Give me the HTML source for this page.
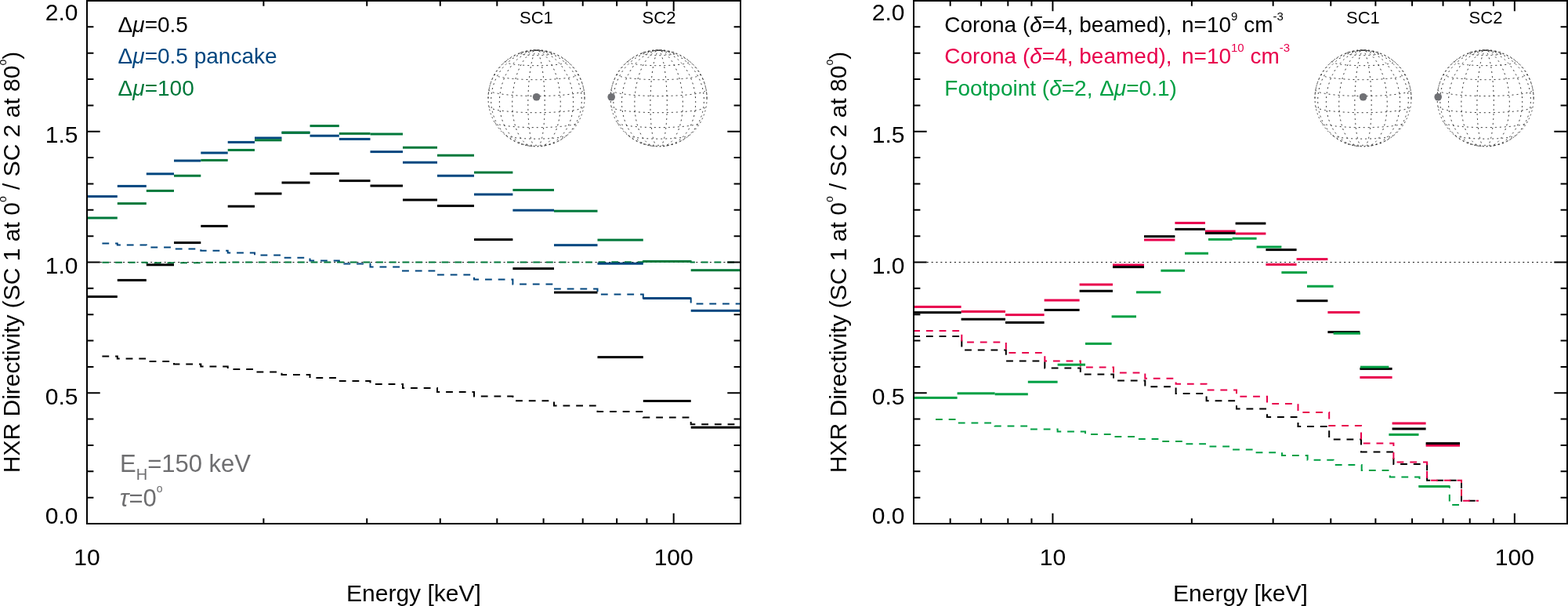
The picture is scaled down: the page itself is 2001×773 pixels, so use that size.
<!DOCTYPE html><html><head><meta charset="utf-8"><style>html,body{margin:0;padding:0;background:#fff;overflow:hidden}svg{display:block}</style></head><body><svg width="2001" height="773" viewBox="0 0 2001 773" font-family="'Liberation Sans', Arial, sans-serif">
<rect width="100%" height="100%" fill="#fff"/>
<defs><clipPath id="cl"><rect x="111" y="1" width="834" height="667"/></clipPath><clipPath id="cr"><rect x="1166" y="1" width="834" height="667"/></clipPath></defs>
<g clip-path="url(#cl)">
<path d="M111 334.4H945" stroke="#111" stroke-width="1.05" stroke-dasharray="2 3.85" stroke-dashoffset="0.75" fill="none"/>
<path d="M130.4 454.4H149.8V457.6H186.8V461H222V464.4H256.3V467.6H290.7V471H325V474.4H359.5V478H395.5V482H432.8V486H472.5V490H514V495H558V500H605V505.4H654.4V511.2H707V517.6H762.5V524.9H820.8V532.5H881.7V541.3H945" stroke="#000" stroke-width="2" fill="none" stroke-dasharray="8.8 7.9" stroke-dashoffset="0"/>
<path d="M130.4 310.6H149.8V312.6H186.8V315.4H222V317.4H256.3V319.8H290.7V322.6H325V325.6H359.5V328.8H395.5V332.6H432.8V336.6H472.5V340.6H514V345.4H558V350.6H605V356.4H654.4V362.4H707V368.6H762.5V375.5H820.8V380.4H881.7V387.4H945" stroke="#00467f" stroke-width="2" fill="none" stroke-dasharray="8.8 7.9" stroke-dashoffset="0"/>
<path d="M130.4 334.8H149.8V334.8H186.8V335.2H222V335.2H256.3V334.8H290.7V334.6H325V334.6H359.5V334.6H395.5V334.6H432.8V334.6H472.5V334.6H514V334.6H558V334.6H605V334.6H654.4V334.4H707V334.4H762.5V334.2H820.8V333.2H881.7V334.6H945" stroke="#00783a" stroke-width="2" fill="none" stroke-dasharray="8.8 7.9" stroke-dashoffset="0"/>
<g fill="#000"><rect x="111" y="376.90" width="38.80" height="3"/><rect x="149.8" y="355.90" width="37.00" height="3"/><rect x="186.8" y="336.30" width="35.20" height="3"/><rect x="222" y="308.10" width="34.30" height="3"/><rect x="256.3" y="286.90" width="34.40" height="3"/><rect x="290.7" y="261.70" width="34.30" height="3"/><rect x="325" y="245.50" width="34.50" height="3"/><rect x="359.5" y="231.50" width="36.00" height="3"/><rect x="395.5" y="219.90" width="37.30" height="3"/><rect x="432.8" y="229.10" width="39.70" height="3"/><rect x="472.5" y="235.50" width="41.50" height="3"/><rect x="514" y="253.50" width="44.00" height="3"/><rect x="558" y="261.10" width="47.00" height="3"/><rect x="605" y="304.10" width="49.40" height="3"/><rect x="654.4" y="341.10" width="52.60" height="3"/><rect x="707" y="371.50" width="55.50" height="3"/><rect x="762.5" y="454.10" width="58.30" height="3"/><rect x="820.8" y="510.00" width="60.90" height="3"/><rect x="881.7" y="543.70" width="63.30" height="3"/></g>
<g fill="#00467f"><rect x="111" y="249.10" width="38.80" height="3"/><rect x="149.8" y="235.90" width="37.00" height="3"/><rect x="186.8" y="220.30" width="35.20" height="3"/><rect x="222" y="203.50" width="34.30" height="3"/><rect x="256.3" y="193.50" width="34.40" height="3"/><rect x="290.7" y="179.90" width="34.30" height="3"/><rect x="325" y="174.50" width="34.50" height="3"/><rect x="359.5" y="167.70" width="36.00" height="3"/><rect x="395.5" y="171.70" width="37.30" height="3"/><rect x="432.8" y="175.90" width="39.70" height="3"/><rect x="472.5" y="192.10" width="41.50" height="3"/><rect x="514" y="205.70" width="44.00" height="3"/><rect x="558" y="222.70" width="47.00" height="3"/><rect x="605" y="246.50" width="49.40" height="3"/><rect x="654.4" y="266.70" width="52.60" height="3"/><rect x="707" y="311.20" width="55.50" height="3"/><rect x="762.5" y="334.70" width="58.30" height="3"/><rect x="820.8" y="379.00" width="60.90" height="3"/><rect x="881.7" y="394.80" width="63.30" height="3"/></g>
<g fill="#00783a"><rect x="111" y="276.50" width="38.80" height="3"/><rect x="149.8" y="258.10" width="37.00" height="3"/><rect x="186.8" y="241.90" width="35.20" height="3"/><rect x="222" y="222.70" width="34.30" height="3"/><rect x="256.3" y="202.90" width="34.40" height="3"/><rect x="290.7" y="189.90" width="34.30" height="3"/><rect x="325" y="177.30" width="34.50" height="3"/><rect x="359.5" y="167.70" width="36.00" height="3"/><rect x="395.5" y="159.10" width="37.30" height="3"/><rect x="432.8" y="168.90" width="39.70" height="3"/><rect x="472.5" y="169.50" width="41.50" height="3"/><rect x="514" y="186.70" width="44.00" height="3"/><rect x="558" y="196.70" width="47.00" height="3"/><rect x="605" y="218.50" width="49.40" height="3"/><rect x="654.4" y="240.90" width="52.60" height="3"/><rect x="707" y="267.70" width="55.50" height="3"/><rect x="762.5" y="304.60" width="58.30" height="3"/><rect x="820.8" y="331.90" width="60.90" height="3"/><rect x="881.7" y="343.20" width="63.30" height="3"/></g>
</g>
<path d="M111.0 1 H945.0 V668.0 H111.0 Z" fill="none" stroke="#000" stroke-width="2" stroke-linejoin="miter"/>
<path d="M111.0 668.00h16.7M945.0 668.00h-16.7M111.0 634.65h8.4M945.0 634.65h-8.4M111.0 601.30h8.4M945.0 601.30h-8.4M111.0 567.95h8.4M945.0 567.95h-8.4M111.0 534.60h8.4M945.0 534.60h-8.4M111.0 501.25h16.7M945.0 501.25h-16.7M111.0 467.90h8.4M945.0 467.90h-8.4M111.0 434.55h8.4M945.0 434.55h-8.4M111.0 401.20h8.4M945.0 401.20h-8.4M111.0 367.85h8.4M945.0 367.85h-8.4M111.0 334.50h16.7M945.0 334.50h-16.7M111.0 301.15h8.4M945.0 301.15h-8.4M111.0 267.80h8.4M945.0 267.80h-8.4M111.0 234.45h8.4M945.0 234.45h-8.4M111.0 201.10h8.4M945.0 201.10h-8.4M111.0 167.75h16.7M945.0 167.75h-16.7M111.0 134.40h8.4M945.0 134.40h-8.4M111.0 101.05h8.4M945.0 101.05h-8.4M111.0 67.70h8.4M945.0 67.70h-8.4M111.0 34.35h8.4M945.0 34.35h-8.4M111.0 1.00h16.7M945.0 1.00h-16.7M111.00 668.0v-13.3M111.00 1v13.3M336.38 668.0v-6.7M336.38 1v6.7M468.22 668.0v-6.7M468.22 1v6.7M561.76 668.0v-6.7M561.76 1v6.7M634.31 668.0v-6.7M634.31 1v6.7M693.60 668.0v-6.7M693.60 1v6.7M743.72 668.0v-6.7M743.72 1v6.7M787.14 668.0v-6.7M787.14 1v6.7M825.43 668.0v-6.7M825.43 1v6.7M859.69 668.0v-13.3M859.69 1v13.3" stroke="#000" stroke-width="2" fill="none"/>
<text x="99.5" y="25.6" text-anchor="end" font-size="30">2.0</text>
<text x="99.5" y="181.6" text-anchor="end" font-size="30">1.5</text>
<text x="99.5" y="348.6" text-anchor="end" font-size="30">1.0</text>
<text x="99.5" y="515.7" text-anchor="end" font-size="30">0.5</text>
<text x="99.5" y="667.5" text-anchor="end" font-size="30">0.0</text>
<text x="111.00" y="721" text-anchor="middle" font-size="30">10</text>
<text x="859.69" y="721" text-anchor="middle" font-size="30">100</text>
<text x="527.9" y="766.8" text-anchor="middle" font-size="30">Energy [keV]</text>
<text transform="translate(24.9,603.2) rotate(-90)" font-size="30">HXR Directivity (SC 1 at 0<tspan font-size="14" dy="-17">o</tspan><tspan dy="17"> / SC 2 at 80</tspan><tspan font-size="14" dy="-17">o</tspan><tspan dy="17">)</tspan></text>
<g font-size="28">
<text x="150.6" y="41">Δ<tspan font-style="italic">μ</tspan>=0.5</text>
<text x="150.6" y="81.4" fill="#00467f">Δ<tspan font-style="italic">μ</tspan>=0.5 pancake</text>
<text x="150.6" y="122" fill="#00783a">Δ<tspan font-style="italic">μ</tspan>=100</text>
</g>
<text x="153" y="601.9" font-size="31" fill="#6e6e70">E<tspan font-size="20" dy="10">H</tspan><tspan dy="-10">=150 keV</tspan></text>
<text x="152.8" y="645.9" font-size="31" fill="#6e6e70"><tspan font-style="italic">τ</tspan>=0<tspan font-size="14" dy="-18">o</tspan></text>
<g clip-path="url(#cr)">
<path d="M1166 334.4H2000" stroke="#111" stroke-width="1.05" stroke-dasharray="2 3.85" stroke-dashoffset="0.75" fill="none"/>
<path d="M1166 429H1227.3V446.6H1283.8V460.4H1333.3V469.6H1378.8V477.6H1421V485.4H1461.3V493.2H1500.6V502H1539.6V511.2H1578V521.4H1617V532H1656.5V544H1696.2V560.4H1737V576.4H1778.4V592H1821.1V612.8H1865V638.8H1887" stroke="#000" stroke-width="2" fill="none" stroke-dasharray="8.8 7.9" stroke-dashoffset="0.8"/>
<path d="M1166 422H1227.3V436.6H1283.8V450H1333.3V460.4H1378.8V468.4H1421V475.6H1461.3V482.8H1500.6V489.8H1539.6V497.4H1578V505.8H1617V515H1656.5V526H1696.2V543H1737V565.5H1778.4V589.5H1821.1V612.8H1865V638.8H1887" stroke="#e8004c" stroke-width="2" fill="none" stroke-dasharray="8.8 7.9" stroke-dashoffset="0.8"/>
<path d="M1194 535H1221.6V539.6H1269.6V543.6H1311.8V547.6H1349.6V550.6H1385V554H1418.6V557H1450V560H1481.4V563H1512V566.2H1542V569.6H1572.6V573.4H1603.6V577.3H1636V581H1668.6V586.8H1701.6V593H1737.7V600H1773.8V608.6H1811.5V620.6H1849.8V644H1862.3" stroke="#00a044" stroke-width="2" fill="none" stroke-dasharray="8.8 7.9" stroke-dashoffset="0"/>
<g fill="#e8004c"><rect x="1166" y="389.90" width="60.60" height="3"/><rect x="1226.6" y="395.90" width="56.40" height="3"/><rect x="1283" y="400.10" width="49.60" height="3"/><rect x="1332.6" y="381.50" width="45.00" height="3"/><rect x="1377.6" y="361.50" width="42.40" height="3"/><rect x="1420" y="336.50" width="40.00" height="3"/><rect x="1460" y="304.50" width="39.40" height="3"/><rect x="1499.4" y="282.90" width="38.60" height="3"/><rect x="1538" y="293.50" width="38.60" height="3"/><rect x="1576.6" y="296.50" width="38.80" height="3"/><rect x="1615.4" y="335.90" width="39.20" height="3"/><rect x="1654.6" y="329.10" width="39.80" height="3"/><rect x="1694.4" y="396.90" width="41.00" height="3"/><rect x="1735.4" y="479.90" width="41.20" height="3"/><rect x="1776.6" y="538.50" width="43.00" height="3"/><rect x="1819.6" y="566.70" width="43.40" height="3"/></g>
<g fill="#000"><rect x="1166" y="397.10" width="60.60" height="3"/><rect x="1226.6" y="405.70" width="56.40" height="3"/><rect x="1283" y="409.90" width="49.60" height="3"/><rect x="1332.6" y="393.90" width="45.00" height="3"/><rect x="1377.6" y="369.70" width="42.40" height="3"/><rect x="1420" y="339.10" width="40.00" height="3"/><rect x="1460" y="300.10" width="39.40" height="3"/><rect x="1499.4" y="290.90" width="38.60" height="3"/><rect x="1538" y="295.90" width="38.60" height="3"/><rect x="1576.6" y="283.50" width="38.80" height="3"/><rect x="1615.4" y="317.10" width="39.20" height="3"/><rect x="1654.6" y="382.20" width="39.80" height="3"/><rect x="1694.4" y="422.10" width="41.00" height="3"/><rect x="1735.4" y="468.90" width="41.20" height="3"/><rect x="1776.6" y="545.50" width="43.00" height="3"/><rect x="1819.6" y="564.10" width="43.40" height="3"/></g>
<g fill="#00a044"><rect x="1166" y="505.90" width="55.60" height="3"/><rect x="1221.6" y="500.30" width="48.00" height="3"/><rect x="1269.6" y="501.30" width="42.20" height="3"/><rect x="1311.8" y="485.70" width="37.80" height="3"/><rect x="1349.6" y="463.70" width="35.40" height="3"/><rect x="1385" y="436.90" width="33.60" height="3"/><rect x="1418.6" y="402.30" width="31.40" height="3"/><rect x="1450" y="371.30" width="31.40" height="3"/><rect x="1481.4" y="343.70" width="30.60" height="3"/><rect x="1512" y="321.70" width="30.00" height="3"/><rect x="1542" y="303.90" width="30.60" height="3"/><rect x="1572.6" y="302.70" width="31.00" height="3"/><rect x="1603.6" y="313.50" width="31.80" height="3"/><rect x="1635.4" y="346.10" width="32.60" height="3"/><rect x="1668" y="363.70" width="33.60" height="3"/><rect x="1701.6" y="423.70" width="34.40" height="3"/><rect x="1736" y="466.70" width="36.40" height="3"/><rect x="1772.4" y="552.90" width="38.10" height="3"/><rect x="1810.5" y="619.00" width="39.50" height="3"/></g>
</g>
<path d="M1166.0 1 H2000.0 V668.0 H1166.0 Z" fill="none" stroke="#000" stroke-width="2" stroke-linejoin="miter"/>
<path d="M1166.0 668.00h16.7M2000.0 668.00h-16.7M1166.0 634.65h8.4M2000.0 634.65h-8.4M1166.0 601.30h8.4M2000.0 601.30h-8.4M1166.0 567.95h8.4M2000.0 567.95h-8.4M1166.0 534.60h8.4M2000.0 534.60h-8.4M1166.0 501.25h16.7M2000.0 501.25h-16.7M1166.0 467.90h8.4M2000.0 467.90h-8.4M1166.0 434.55h8.4M2000.0 434.55h-8.4M1166.0 401.20h8.4M2000.0 401.20h-8.4M1166.0 367.85h8.4M2000.0 367.85h-8.4M1166.0 334.50h16.7M2000.0 334.50h-16.7M1166.0 301.15h8.4M2000.0 301.15h-8.4M1166.0 267.80h8.4M2000.0 267.80h-8.4M1166.0 234.45h8.4M2000.0 234.45h-8.4M1166.0 201.10h8.4M2000.0 201.10h-8.4M1166.0 167.75h16.7M2000.0 167.75h-16.7M1166.0 134.40h8.4M2000.0 134.40h-8.4M1166.0 101.05h8.4M2000.0 101.05h-8.4M1166.0 67.70h8.4M2000.0 67.70h-8.4M1166.0 34.35h8.4M2000.0 34.35h-8.4M1166.0 1.00h16.7M2000.0 1.00h-16.7M1166.00 668.0v-6.7M1166.00 1v6.7M1212.67 668.0v-6.7M1212.67 1v6.7M1252.13 668.0v-6.7M1252.13 1v6.7M1286.31 668.0v-6.7M1286.31 1v6.7M1316.46 668.0v-6.7M1316.46 1v6.7M1343.43 668.0v-13.3M1343.43 1v13.3M1520.86 668.0v-6.7M1520.86 1v6.7M1624.65 668.0v-6.7M1624.65 1v6.7M1698.29 668.0v-6.7M1698.29 1v6.7M1755.41 668.0v-6.7M1755.41 1v6.7M1802.08 668.0v-6.7M1802.08 1v6.7M1841.54 668.0v-6.7M1841.54 1v6.7M1875.72 668.0v-6.7M1875.72 1v6.7M1905.87 668.0v-6.7M1905.87 1v6.7M1932.84 668.0v-13.3M1932.84 1v13.3" stroke="#000" stroke-width="2" fill="none"/>
<text x="1154.5" y="25.6" text-anchor="end" font-size="30">2.0</text>
<text x="1154.5" y="181.6" text-anchor="end" font-size="30">1.5</text>
<text x="1154.5" y="348.6" text-anchor="end" font-size="30">1.0</text>
<text x="1154.5" y="515.7" text-anchor="end" font-size="30">0.5</text>
<text x="1154.5" y="667.5" text-anchor="end" font-size="30">0.0</text>
<text x="1343.43" y="721" text-anchor="middle" font-size="30">10</text>
<text x="1932.84" y="721" text-anchor="middle" font-size="30">100</text>
<text x="1583" y="766.8" text-anchor="middle" font-size="30">Energy [keV]</text>
<text transform="translate(1079.8,603.2) rotate(-90)" font-size="30">HXR Directivity (SC 1 at 0<tspan font-size="14" dy="-17">o</tspan><tspan dy="17"> / SC 2 at 80</tspan><tspan font-size="14" dy="-17">o</tspan><tspan dy="17">)</tspan></text>
<g font-size="28">
<text x="1205.3" y="40.6">Corona (<tspan font-style="italic">δ</tspan>=4, beamed),<tspan dx="4.6"> n=10</tspan><tspan font-size="15" dy="-15">9</tspan><tspan dy="15"> cm</tspan><tspan font-size="15" dy="-15">-3</tspan></text>
<text x="1205.3" y="81.3" fill="#e8004c">Corona (<tspan font-style="italic">δ</tspan>=4, beamed),<tspan dx="4.6"> n=10</tspan><tspan font-size="15" dy="-15">10</tspan><tspan dy="15"> cm</tspan><tspan font-size="15" dy="-15">-3</tspan></text>
<text x="1205.3" y="121.5" fill="#00a044">Footpoint (<tspan font-style="italic">δ</tspan>=2,<tspan dx="2.5"> Δ</tspan><tspan font-style="italic">μ</tspan>=0.1)</text>
</g>
<circle cx="684.5" cy="125.3" r="61.5" fill="none" stroke="#333" stroke-width="1" stroke-dasharray="1.8 3.4"/>
<path d="M665.00 183.62 L665.28 183.71 L665.59 183.80 L665.93 183.88 L666.28 183.96 L666.66 184.05 L667.06 184.12 L667.48 184.20 L667.92 184.28 L668.39 184.35 L668.87 184.42 L669.37 184.49 L669.89 184.56 L670.43 184.62 L670.98 184.69 L671.55 184.74 L672.14 184.80 L672.74 184.86 L673.35 184.91 L673.98 184.96 L674.63 185.00 L675.28 185.04 L675.94 185.08 L676.62 185.12 L677.31 185.16 L678.00 185.19 L678.70 185.21 L679.41 185.24 L680.13 185.26 L680.85 185.28 L681.57 185.29 L682.30 185.30 L683.03 185.31 L683.77 185.32 L684.50 185.32 L685.23 185.32 L685.97 185.31 L686.70 185.30 L687.43 185.29 L688.15 185.28 L688.87 185.26 L689.59 185.24 L690.30 185.21 L691.00 185.19 L691.69 185.16 L692.38 185.12 L693.06 185.08 L693.72 185.04 L694.37 185.00 L695.02 184.96 L695.65 184.91 L696.26 184.86 L696.86 184.80 L697.45 184.74 L698.02 184.69 L698.57 184.62 L699.11 184.56 L699.63 184.49 L700.13 184.42 L700.61 184.35 L701.08 184.28 L701.52 184.20 L701.94 184.12 L702.34 184.05 L702.72 183.96 L703.07 183.88 L703.41 183.80 L703.72 183.71 L704.00 183.62 M645.57 172.90 L645.83 173.08 L646.14 173.25 L646.50 173.42 L646.90 173.59 L647.35 173.76 L647.85 173.93 L648.39 174.09 L648.97 174.25 L649.60 174.41 L650.26 174.57 L650.98 174.72 L651.73 174.87 L652.52 175.01 L653.35 175.15 L654.22 175.29 L655.12 175.43 L656.06 175.56 L657.04 175.68 L658.05 175.80 L659.09 175.92 L660.16 176.03 L661.26 176.14 L662.39 176.24 L663.55 176.34 L664.73 176.43 L665.94 176.51 L667.17 176.60 L668.42 176.67 L669.69 176.74 L670.98 176.80 L672.28 176.86 L673.60 176.91 L674.94 176.96 L676.28 177.00 L677.64 177.03 L679.00 177.06 L680.37 177.08 L681.74 177.10 L683.12 177.11 L684.50 177.11 L685.88 177.11 L687.26 177.10 L688.63 177.08 L690.00 177.06 L691.36 177.03 L692.72 177.00 L694.06 176.96 L695.40 176.91 L696.72 176.86 L698.02 176.80 L699.31 176.74 L700.58 176.67 L701.83 176.60 L703.06 176.51 L704.27 176.43 L705.45 176.34 L706.61 176.24 L707.74 176.14 L708.84 176.03 L709.91 175.92 L710.95 175.80 L711.96 175.68 L712.94 175.56 L713.88 175.43 L714.78 175.29 L715.65 175.15 L716.48 175.01 L717.27 174.87 L718.02 174.72 L718.74 174.57 L719.40 174.41 L720.03 174.25 L720.61 174.09 L721.15 173.93 L721.65 173.76 L722.10 173.59 L722.50 173.42 L722.86 173.25 L723.17 173.08 L723.43 172.90 M631.53 156.51 L631.76 156.75 L632.05 156.99 L632.40 157.22 L632.82 157.45 L633.30 157.68 L633.85 157.91 L634.45 158.14 L635.12 158.36 L635.84 158.58 L636.63 158.80 L637.47 159.01 L638.38 159.22 L639.33 159.43 L640.34 159.63 L641.41 159.83 L642.53 160.02 L643.70 160.20 L644.92 160.38 L646.19 160.56 L647.50 160.73 L648.86 160.89 L650.26 161.05 L651.71 161.20 L653.19 161.34 L654.72 161.48 L656.28 161.61 L657.87 161.73 L659.50 161.85 L661.15 161.96 L662.84 162.06 L664.55 162.15 L666.28 162.24 L668.04 162.32 L669.82 162.39 L671.62 162.45 L673.43 162.50 L675.25 162.55 L677.09 162.59 L678.93 162.62 L680.78 162.64 L682.64 162.65 L684.50 162.65 L686.36 162.65 L688.22 162.64 L690.07 162.62 L691.91 162.59 L693.75 162.55 L695.57 162.50 L697.38 162.45 L699.18 162.39 L700.96 162.32 L702.72 162.24 L704.45 162.15 L706.16 162.06 L707.85 161.96 L709.50 161.85 L711.13 161.73 L712.72 161.61 L714.28 161.48 L715.81 161.34 L717.29 161.20 L718.74 161.05 L720.14 160.89 L721.50 160.73 L722.81 160.56 L724.08 160.38 L725.30 160.20 L726.47 160.02 L727.59 159.83 L728.66 159.63 L729.67 159.43 L730.62 159.22 L731.53 159.01 L732.37 158.80 L733.16 158.58 L733.88 158.36 L734.55 158.14 L735.15 157.91 L735.70 157.68 L736.18 157.45 L736.60 157.22 L736.95 156.99 L737.24 156.75 L737.47 156.51 M623.97 136.16 L624.08 136.43 L624.27 136.71 L624.52 136.98 L624.85 137.24 L625.26 137.51 L625.73 137.78 L626.28 138.04 L626.90 138.30 L627.59 138.56 L628.34 138.81 L629.17 139.06 L630.06 139.31 L631.02 139.55 L632.05 139.79 L633.14 140.02 L634.29 140.25 L635.50 140.48 L636.77 140.69 L638.10 140.90 L639.49 141.11 L640.93 141.31 L642.43 141.50 L643.97 141.69 L645.57 141.87 L647.21 142.04 L648.90 142.20 L650.63 142.36 L652.41 142.51 L654.22 142.65 L656.07 142.78 L657.95 142.90 L659.87 143.02 L661.81 143.12 L663.79 143.22 L665.78 143.31 L667.81 143.39 L669.85 143.46 L671.91 143.52 L673.98 143.57 L676.07 143.62 L678.17 143.65 L680.28 143.67 L682.39 143.69 L684.50 143.69 L686.61 143.69 L688.72 143.67 L690.83 143.65 L692.93 143.62 L695.02 143.57 L697.09 143.52 L699.15 143.46 L701.19 143.39 L703.22 143.31 L705.21 143.22 L707.19 143.12 L709.13 143.02 L711.05 142.90 L712.93 142.78 L714.78 142.65 L716.59 142.51 L718.37 142.36 L720.10 142.20 L721.79 142.04 L723.43 141.87 L725.03 141.69 L726.57 141.50 L728.07 141.31 L729.51 141.11 L730.90 140.90 L732.23 140.69 L733.50 140.48 L734.71 140.25 L735.86 140.02 L736.95 139.79 L737.98 139.55 L738.94 139.31 L739.83 139.06 L740.66 138.81 L741.41 138.56 L742.10 138.30 L742.72 138.04 L743.27 137.78 L743.74 137.51 L744.15 137.24 L744.48 136.98 L744.73 136.71 L744.92 136.43 L745.03 136.16 M623.93 114.71 L623.97 114.98 L624.08 115.25 L624.27 115.52 L624.52 115.80 L624.85 116.06 L625.26 116.33 L625.73 116.60 L626.28 116.86 L626.90 117.12 L627.59 117.38 L628.34 117.63 L629.17 117.88 L630.06 118.13 L631.02 118.37 L632.05 118.61 L633.14 118.84 L634.29 119.07 L635.50 119.29 L636.77 119.51 L638.10 119.72 L639.49 119.93 L640.93 120.13 L642.43 120.32 L643.97 120.51 L645.57 120.69 L647.21 120.86 L648.90 121.02 L650.63 121.18 L652.41 121.32 L654.22 121.47 L656.07 121.60 L657.95 121.72 L659.87 121.84 L661.81 121.94 L663.79 122.04 L665.78 122.13 L667.81 122.21 L669.85 122.28 L671.91 122.34 L673.98 122.39 L676.07 122.43 L678.17 122.47 L680.28 122.49 L682.39 122.51 L684.50 122.51 L686.61 122.51 L688.72 122.49 L690.83 122.47 L692.93 122.43 L695.02 122.39 L697.09 122.34 L699.15 122.28 L701.19 122.21 L703.22 122.13 L705.21 122.04 L707.19 121.94 L709.13 121.84 L711.05 121.72 L712.93 121.60 L714.78 121.47 L716.59 121.32 L718.37 121.18 L720.10 121.02 L721.79 120.86 L723.43 120.69 L725.03 120.51 L726.57 120.32 L728.07 120.13 L729.51 119.93 L730.90 119.72 L732.23 119.51 L733.50 119.29 L734.71 119.07 L735.86 118.84 L736.95 118.61 L737.98 118.37 L738.94 118.13 L739.83 117.88 L740.66 117.63 L741.41 117.38 L742.10 117.12 L742.72 116.86 L743.27 116.60 L743.74 116.33 L744.15 116.06 L744.48 115.80 L744.73 115.52 L744.92 115.25 L745.03 114.98 L745.07 114.71 M631.37 94.33 L631.27 94.57 L631.24 94.81 L631.27 95.05 L631.37 95.28 L631.53 95.52 L631.76 95.76 L632.05 96.00 L632.40 96.23 L632.82 96.47 L633.30 96.70 L633.85 96.93 L634.45 97.15 L635.12 97.38 L635.84 97.60 L636.63 97.81 L637.47 98.03 L638.38 98.24 L639.33 98.44 L640.34 98.64 L641.41 98.84 L642.53 99.03 L643.70 99.22 L644.92 99.40 L646.19 99.57 L647.50 99.74 L648.86 99.90 L650.26 100.06 L651.71 100.21 L653.19 100.36 L654.72 100.49 L656.28 100.62 L657.87 100.75 L659.50 100.86 L661.15 100.97 L662.84 101.07 L664.55 101.17 L666.28 101.25 L668.04 101.33 L669.82 101.40 L671.62 101.46 L673.43 101.52 L675.25 101.56 L677.09 101.60 L678.93 101.63 L680.78 101.65 L682.64 101.66 L684.50 101.67 L686.36 101.66 L688.22 101.65 L690.07 101.63 L691.91 101.60 L693.75 101.56 L695.57 101.52 L697.38 101.46 L699.18 101.40 L700.96 101.33 L702.72 101.25 L704.45 101.17 L706.16 101.07 L707.85 100.97 L709.50 100.86 L711.13 100.75 L712.72 100.62 L714.28 100.49 L715.81 100.36 L717.29 100.21 L718.74 100.06 L720.14 99.90 L721.50 99.74 L722.81 99.57 L724.08 99.40 L725.30 99.22 L726.47 99.03 L727.59 98.84 L728.66 98.64 L729.67 98.44 L730.62 98.24 L731.53 98.03 L732.37 97.81 L733.16 97.60 L733.88 97.38 L734.55 97.15 L735.15 96.93 L735.70 96.70 L736.18 96.47 L736.60 96.23 L736.95 96.00 L737.24 95.76 L737.47 95.52 L737.63 95.28 L737.73 95.05 L737.76 94.81 L737.73 94.57 L737.63 94.33 M645.35 77.87 L645.19 78.05 L645.06 78.23 L644.99 78.40 L644.97 78.58 L644.99 78.76 L645.06 78.94 L645.19 79.11 L645.35 79.29 L645.57 79.46 L645.83 79.64 L646.14 79.81 L646.50 79.98 L646.90 80.15 L647.35 80.32 L647.85 80.49 L648.39 80.65 L648.97 80.81 L649.60 80.97 L650.26 81.13 L650.98 81.28 L651.73 81.43 L652.52 81.57 L653.35 81.72 L654.22 81.85 L655.12 81.99 L656.06 82.12 L657.04 82.24 L658.05 82.36 L659.09 82.48 L660.16 82.59 L661.26 82.70 L662.39 82.80 L663.55 82.90 L664.73 82.99 L665.94 83.08 L667.17 83.16 L668.42 83.23 L669.69 83.30 L670.98 83.37 L672.28 83.42 L673.60 83.47 L674.94 83.52 L676.28 83.56 L677.64 83.59 L679.00 83.62 L680.37 83.64 L681.74 83.66 L683.12 83.67 L684.50 83.67 L685.88 83.67 L687.26 83.66 L688.63 83.64 L690.00 83.62 L691.36 83.59 L692.72 83.56 L694.06 83.52 L695.40 83.47 L696.72 83.42 L698.02 83.37 L699.31 83.30 L700.58 83.23 L701.83 83.16 L703.06 83.08 L704.27 82.99 L705.45 82.90 L706.61 82.80 L707.74 82.70 L708.84 82.59 L709.91 82.48 L710.95 82.36 L711.96 82.24 L712.94 82.12 L713.88 81.99 L714.78 81.85 L715.65 81.72 L716.48 81.57 L717.27 81.43 L718.02 81.28 L718.74 81.13 L719.40 80.97 L720.03 80.81 L720.61 80.65 L721.15 80.49 L721.65 80.32 L722.10 80.15 L722.50 79.98 L722.86 79.81 L723.17 79.64 L723.43 79.46 L723.65 79.29 L723.81 79.11 L723.94 78.94 L724.01 78.76 L724.03 78.58 L724.01 78.40 L723.94 78.23 L723.81 78.05 L723.65 77.87 M664.73 67.06 L664.50 67.15 L664.28 67.24 L664.09 67.33 L663.93 67.43 L663.79 67.52 L663.67 67.61 L663.58 67.71 L663.52 67.80 L663.48 67.90 L663.47 67.99 L663.48 68.08 L663.52 68.18 L663.58 68.27 L663.67 68.37 L663.79 68.46 L663.93 68.55 L664.09 68.65 L664.28 68.74 L664.50 68.83 L664.73 68.92 L665.00 69.01 L665.28 69.09 L665.59 69.18 L665.93 69.26 L666.28 69.34 L666.66 69.43 L667.06 69.51 L667.48 69.58 L667.92 69.66 L668.39 69.73 L668.87 69.80 L669.37 69.87 L669.89 69.94 L670.43 70.00 L670.98 70.07 L671.55 70.13 L672.14 70.18 L672.74 70.24 L673.35 70.29 L673.98 70.34 L674.63 70.38 L675.28 70.43 L675.94 70.47 L676.62 70.50 L677.31 70.54 L678.00 70.57 L678.70 70.59 L679.41 70.62 L680.13 70.64 L680.85 70.66 L681.57 70.67 L682.30 70.68 L683.03 70.69 L683.77 70.70 L684.50 70.70 L685.23 70.70 L685.97 70.69 L686.70 70.68 L687.43 70.67 L688.15 70.66 L688.87 70.64 L689.59 70.62 L690.30 70.59 L691.00 70.57 L691.69 70.54 L692.38 70.50 L693.06 70.47 L693.72 70.43 L694.37 70.38 L695.02 70.34 L695.65 70.29 L696.26 70.24 L696.86 70.18 L697.45 70.13 L698.02 70.07 L698.57 70.00 L699.11 69.94 L699.63 69.87 L700.13 69.80 L700.61 69.73 L701.08 69.66 L701.52 69.58 L701.94 69.51 L702.34 69.43 L702.72 69.34 L703.07 69.26 L703.41 69.18 L703.72 69.09 L704.00 69.01 L704.27 68.92 L704.50 68.83 L704.72 68.74 L704.91 68.65 L705.07 68.55 L705.21 68.46 L705.33 68.37 L705.42 68.27 L705.48 68.18 L705.52 68.08 L705.53 67.99 L705.52 67.90 L705.48 67.80 L705.42 67.71 L705.33 67.61 L705.21 67.52 L705.07 67.43 L704.91 67.33 L704.72 67.24 L704.50 67.15 L704.27 67.06 M683.38 63.83 L683.76 63.92 L684.13 64.08 L684.50 64.31 M680.22 63.95 L681.29 63.93 L682.35 63.98 L683.43 64.11 L684.50 64.31 M676.32 64.35 L677.94 64.20 L679.58 64.11 L681.21 64.11 L682.86 64.17 L684.50 64.31 M664.73 67.06 L666.64 66.46 L668.57 65.93 L670.52 65.47 L672.48 65.08 L674.46 64.77 L676.46 64.53 L678.46 64.36 L680.47 64.27 L682.48 64.25 L684.50 64.31 M623.00 125.30 L623.04 123.17 L623.15 121.05 L623.34 118.93 L623.60 116.81 L623.93 114.71 L624.34 112.62 L624.83 110.55 L625.38 108.49 L626.01 106.45 L626.71 104.44 L627.48 102.45 L628.32 100.49 L629.22 98.56 L630.20 96.67 L631.24 94.81 L632.35 92.98 L633.51 91.20 L634.75 89.45 L636.04 87.75 L637.39 86.10 L638.80 84.49 L640.26 82.93 L641.78 81.43 L643.35 79.98 L644.97 78.58 L646.64 77.24 L648.35 75.96 L650.11 74.74 L651.91 73.58 L653.75 72.48 L655.63 71.45 L657.54 70.48 L659.49 69.58 L661.46 68.75 L663.47 67.99 L665.50 67.30 L667.55 66.67 L669.62 66.12 L671.71 65.64 L673.82 65.24 L675.94 64.91 L678.07 64.65 L680.21 64.46 L682.35 64.35 L684.50 64.31 M662.85 182.86 L660.99 182.12 L659.17 181.30 L657.37 180.42 L655.60 179.47 L653.88 178.46 L652.18 177.38 L650.53 176.23 L648.92 175.03 L647.35 173.76 L645.83 172.44 L644.35 171.05 L642.93 169.61 L641.55 168.12 L640.23 166.58 L638.96 164.98 L637.75 163.34 L636.59 161.65 L635.49 159.92 L634.45 158.14 L633.47 156.32 L632.56 154.47 L631.71 152.58 L630.92 150.66 L630.19 148.70 L629.54 146.72 L628.95 144.71 L628.43 142.68 L627.97 140.63 L627.59 138.56 L627.27 136.47 L627.03 134.37 L626.85 132.26 L626.74 130.14 L626.71 128.01 L626.74 125.88 L626.85 123.75 L627.03 121.62 L627.27 119.49 L627.59 117.38 L627.97 115.27 L628.43 113.17 L628.95 111.09 L629.54 109.03 L630.19 106.99 L630.92 104.97 L631.71 102.97 L632.56 101.00 L633.47 99.06 L634.45 97.15 L635.49 95.28 L636.59 93.44 L637.75 91.64 L638.96 89.89 L640.23 88.17 L641.55 86.50 L642.93 84.88 L644.35 83.31 L645.83 81.79 L647.35 80.32 L648.92 78.91 L650.53 77.55 L652.18 76.25 L653.88 75.02 L655.60 73.84 L657.37 72.72 L659.17 71.67 L660.99 70.69 L662.85 69.77 L664.73 68.92 L666.64 68.13 L668.57 67.42 L670.52 66.78 L672.48 66.21 L674.46 65.71 L676.46 65.28 L678.46 64.93 L680.47 64.65 L682.48 64.44 L684.50 64.31 M674.70 186.01 L673.10 185.71 L671.51 185.33 L669.94 184.88 L668.39 184.35 L666.85 183.75 L665.34 183.09 L663.85 182.35 L662.38 181.54 L660.94 180.66 L659.53 179.72 L658.16 178.71 L656.81 177.63 L655.50 176.49 L654.22 175.29 L652.98 174.03 L651.77 172.71 L650.61 171.33 L649.49 169.89 L648.41 168.40 L647.38 166.86 L646.39 165.27 L645.44 163.62 L644.55 161.94 L643.70 160.20 L642.90 158.43 L642.16 156.61 L641.46 154.76 L640.82 152.87 L640.23 150.94 L639.69 148.99 L639.21 147.00 L638.79 144.99 L638.42 142.96 L638.10 140.90 L637.85 138.83 L637.65 136.74 L637.50 134.63 L637.42 132.52 L637.39 130.39 L637.42 128.26 L637.50 126.12 L637.65 123.99 L637.85 121.85 L638.10 119.72 L638.42 117.60 L638.79 115.49 L639.21 113.38 L639.69 111.30 L640.23 109.23 L640.82 107.17 L641.46 105.15 L642.16 103.14 L642.90 101.16 L643.70 99.22 L644.55 97.30 L645.44 95.42 L646.39 93.57 L647.38 91.76 L648.41 90.00 L649.49 88.27 L650.61 86.60 L651.77 84.97 L652.98 83.38 L654.22 81.85 L655.50 80.38 L656.81 78.95 L658.16 77.59 L659.53 76.28 L660.94 75.03 L662.38 73.84 L663.85 72.72 L665.34 71.66 L666.85 70.66 L668.39 69.73 L669.94 68.87 L671.51 68.08 L673.10 67.36 L674.70 66.70 L676.32 66.12 L677.94 65.61 L679.58 65.18 L681.21 64.82 L682.86 64.53 L684.50 64.31 M679.16 186.55 L678.11 186.38 L677.06 186.14 L676.02 185.82 L675.00 185.42 L673.98 184.96 L672.98 184.42 L671.99 183.81 L671.02 183.12 L670.06 182.37 L669.12 181.55 L668.20 180.66 L667.30 179.70 L666.43 178.67 L665.57 177.58 L664.73 176.43 L663.92 175.21 L663.14 173.94 L662.38 172.60 L661.65 171.21 L660.94 169.76 L660.27 168.25 L659.62 166.70 L659.01 165.09 L658.42 163.44 L657.87 161.73 L657.35 159.99 L656.86 158.20 L656.41 156.37 L655.99 154.51 L655.60 152.61 L655.26 150.67 L654.94 148.70 L654.66 146.71 L654.42 144.69 L654.22 142.65 L654.05 140.58 L653.92 138.50 L653.82 136.40 L653.77 134.28 L653.75 132.16 L653.77 130.03 L653.82 127.89 L653.92 125.75 L654.05 123.61 L654.22 121.47 L654.42 119.33 L654.66 117.20 L654.94 115.08 L655.26 112.98 L655.60 110.89 L655.99 108.81 L656.41 106.76 L656.86 104.73 L657.35 102.72 L657.87 100.75 L658.42 98.80 L659.01 96.88 L659.62 95.00 L660.27 93.16 L660.94 91.35 L661.65 89.59 L662.38 87.87 L663.14 86.19 L663.92 84.57 L664.73 82.99 L665.57 81.46 L666.43 79.99 L667.30 78.57 L668.20 77.21 L669.12 75.91 L670.06 74.67 L671.02 73.49 L671.99 72.37 L672.98 71.32 L673.98 70.34 L675.00 69.42 L676.02 68.57 L677.06 67.78 L678.11 67.07 L679.16 66.43 L680.22 65.86 L681.29 65.36 L682.35 64.94 L683.43 64.59 L684.50 64.31 M683.01 186.78 L682.65 186.72 L682.28 186.58 L681.92 186.36 L681.56 186.08 L681.20 185.71 L680.85 185.28 L680.50 184.77 L680.16 184.19 L679.82 183.54 L679.49 182.81 L679.16 182.02 L678.84 181.15 L678.53 180.22 L678.22 179.23 L677.93 178.16 L677.64 177.03 L677.35 175.84 L677.08 174.59 L676.82 173.28 L676.56 171.91 L676.32 170.48 L676.08 168.99 L675.86 167.46 L675.65 165.87 L675.44 164.23 L675.25 162.55 L675.07 160.82 L674.90 159.05 L674.74 157.23 L674.60 155.38 L674.46 153.49 L674.34 151.57 L674.23 149.61 L674.14 147.62 L674.05 145.61 L673.98 143.57 L673.92 141.51 L673.88 139.43 L673.85 137.34 L673.83 135.22 L673.82 133.10 L673.83 130.97 L673.85 128.83 L673.88 126.68 L673.92 124.54 L673.98 122.39 L674.05 120.25 L674.14 118.11 L674.23 115.99 L674.34 113.87 L674.46 111.77 L674.60 109.69 L674.74 107.62 L674.90 105.58 L675.07 103.56 L675.25 101.56 L675.44 99.60 L675.65 97.66 L675.86 95.76 L676.08 93.90 L676.32 92.07 L676.56 90.29 L676.82 88.55 L677.08 86.85 L677.35 85.20 L677.64 83.59 L677.93 82.04 L678.22 80.54 L678.53 79.10 L678.84 77.71 L679.16 76.38 L679.49 75.11 L679.82 73.90 L680.16 72.76 L680.50 71.68 L680.85 70.66 L681.20 69.71 L681.56 68.82 L681.92 68.01 L682.28 67.27 L682.65 66.59 L683.01 65.99 L683.38 65.46 L683.76 65.00 L684.13 64.62 L684.50 64.31 M685.99 186.78 L686.35 186.72 L686.72 186.58 L687.08 186.36 L687.44 186.08 L687.80 185.71 L688.15 185.28 L688.50 184.77 L688.84 184.19 L689.18 183.54 L689.51 182.81 L689.84 182.02 L690.16 181.15 L690.47 180.22 L690.78 179.23 L691.07 178.16 L691.36 177.03 L691.65 175.84 L691.92 174.59 L692.18 173.28 L692.44 171.91 L692.68 170.48 L692.92 168.99 L693.14 167.46 L693.35 165.87 L693.56 164.23 L693.75 162.55 L693.93 160.82 L694.10 159.05 L694.26 157.23 L694.40 155.38 L694.54 153.49 L694.66 151.57 L694.77 149.61 L694.86 147.62 L694.95 145.61 L695.02 143.57 L695.08 141.51 L695.12 139.43 L695.15 137.34 L695.17 135.22 L695.18 133.10 L695.17 130.97 L695.15 128.83 L695.12 126.68 L695.08 124.54 L695.02 122.39 L694.95 120.25 L694.86 118.11 L694.77 115.99 L694.66 113.87 L694.54 111.77 L694.40 109.69 L694.26 107.62 L694.10 105.58 L693.93 103.56 L693.75 101.56 L693.56 99.60 L693.35 97.66 L693.14 95.76 L692.92 93.90 L692.68 92.07 L692.44 90.29 L692.18 88.55 L691.92 86.85 L691.65 85.20 L691.36 83.59 L691.07 82.04 L690.78 80.54 L690.47 79.10 L690.16 77.71 L689.84 76.38 L689.51 75.11 L689.18 73.90 L688.84 72.76 L688.50 71.68 L688.15 70.66 L687.80 69.71 L687.44 68.82 L687.08 68.01 L686.72 67.27 L686.35 66.59 L685.99 65.99 L685.62 65.46 L685.24 65.00 L684.87 64.62 L684.50 64.31 M689.84 186.55 L690.89 186.38 L691.94 186.14 L692.98 185.82 L694.00 185.42 L695.02 184.96 L696.02 184.42 L697.01 183.81 L697.98 183.12 L698.94 182.37 L699.88 181.55 L700.80 180.66 L701.70 179.70 L702.57 178.67 L703.43 177.58 L704.27 176.43 L705.08 175.21 L705.86 173.94 L706.62 172.60 L707.35 171.21 L708.06 169.76 L708.73 168.25 L709.38 166.70 L709.99 165.09 L710.58 163.44 L711.13 161.73 L711.65 159.99 L712.14 158.20 L712.59 156.37 L713.01 154.51 L713.40 152.61 L713.74 150.67 L714.06 148.70 L714.34 146.71 L714.58 144.69 L714.78 142.65 L714.95 140.58 L715.08 138.50 L715.18 136.40 L715.23 134.28 L715.25 132.16 L715.23 130.03 L715.18 127.89 L715.08 125.75 L714.95 123.61 L714.78 121.47 L714.58 119.33 L714.34 117.20 L714.06 115.08 L713.74 112.98 L713.40 110.89 L713.01 108.81 L712.59 106.76 L712.14 104.73 L711.65 102.72 L711.13 100.75 L710.58 98.80 L709.99 96.88 L709.38 95.00 L708.73 93.16 L708.06 91.35 L707.35 89.59 L706.62 87.87 L705.86 86.19 L705.08 84.57 L704.27 82.99 L703.43 81.46 L702.57 79.99 L701.70 78.57 L700.80 77.21 L699.88 75.91 L698.94 74.67 L697.98 73.49 L697.01 72.37 L696.02 71.32 L695.02 70.34 L694.00 69.42 L692.98 68.57 L691.94 67.78 L690.89 67.07 L689.84 66.43 L688.78 65.86 L687.71 65.36 L686.65 64.94 L685.57 64.59 L684.50 64.31 M694.30 186.01 L695.90 185.71 L697.49 185.33 L699.06 184.88 L700.61 184.35 L702.15 183.75 L703.66 183.09 L705.15 182.35 L706.62 181.54 L708.06 180.66 L709.47 179.72 L710.84 178.71 L712.19 177.63 L713.50 176.49 L714.78 175.29 L716.02 174.03 L717.23 172.71 L718.39 171.33 L719.51 169.89 L720.59 168.40 L721.62 166.86 L722.61 165.27 L723.56 163.62 L724.45 161.94 L725.30 160.20 L726.10 158.43 L726.84 156.61 L727.54 154.76 L728.18 152.87 L728.77 150.94 L729.31 148.99 L729.79 147.00 L730.21 144.99 L730.58 142.96 L730.90 140.90 L731.15 138.83 L731.35 136.74 L731.50 134.63 L731.58 132.52 L731.61 130.39 L731.58 128.26 L731.50 126.12 L731.35 123.99 L731.15 121.85 L730.90 119.72 L730.58 117.60 L730.21 115.49 L729.79 113.38 L729.31 111.30 L728.77 109.23 L728.18 107.17 L727.54 105.15 L726.84 103.14 L726.10 101.16 L725.30 99.22 L724.45 97.30 L723.56 95.42 L722.61 93.57 L721.62 91.76 L720.59 90.00 L719.51 88.27 L718.39 86.60 L717.23 84.97 L716.02 83.38 L714.78 81.85 L713.50 80.38 L712.19 78.95 L710.84 77.59 L709.47 76.28 L708.06 75.03 L706.62 73.84 L705.15 72.72 L703.66 71.66 L702.15 70.66 L700.61 69.73 L699.06 68.87 L697.49 68.08 L695.90 67.36 L694.30 66.70 L692.68 66.12 L691.06 65.61 L689.42 65.18 L687.79 64.82 L686.14 64.53 L684.50 64.31 M706.15 182.86 L708.01 182.12 L709.83 181.30 L711.63 180.42 L713.40 179.47 L715.12 178.46 L716.82 177.38 L718.47 176.23 L720.08 175.03 L721.65 173.76 L723.17 172.44 L724.65 171.05 L726.07 169.61 L727.45 168.12 L728.77 166.58 L730.04 164.98 L731.25 163.34 L732.41 161.65 L733.51 159.92 L734.55 158.14 L735.53 156.32 L736.44 154.47 L737.29 152.58 L738.08 150.66 L738.81 148.70 L739.46 146.72 L740.05 144.71 L740.57 142.68 L741.03 140.63 L741.41 138.56 L741.73 136.47 L741.97 134.37 L742.15 132.26 L742.26 130.14 L742.29 128.01 L742.26 125.88 L742.15 123.75 L741.97 121.62 L741.73 119.49 L741.41 117.38 L741.03 115.27 L740.57 113.17 L740.05 111.09 L739.46 109.03 L738.81 106.99 L738.08 104.97 L737.29 102.97 L736.44 101.00 L735.53 99.06 L734.55 97.15 L733.51 95.28 L732.41 93.44 L731.25 91.64 L730.04 89.89 L728.77 88.17 L727.45 86.50 L726.07 84.88 L724.65 83.31 L723.17 81.79 L721.65 80.32 L720.08 78.91 L718.47 77.55 L716.82 76.25 L715.12 75.02 L713.40 73.84 L711.63 72.72 L709.83 71.67 L708.01 70.69 L706.15 69.77 L704.27 68.92 L702.36 68.13 L700.43 67.42 L698.48 66.78 L696.52 66.21 L694.54 65.71 L692.54 65.28 L690.54 64.93 L688.53 64.65 L686.52 64.44 L684.50 64.31 M746.00 125.30 L745.96 123.17 L745.85 121.05 L745.66 118.93 L745.40 116.81 L745.07 114.71 L744.66 112.62 L744.17 110.55 L743.62 108.49 L742.99 106.45 L742.29 104.44 L741.52 102.45 L740.68 100.49 L739.78 98.56 L738.80 96.67 L737.76 94.81 L736.65 92.98 L735.49 91.20 L734.25 89.45 L732.96 87.75 L731.61 86.10 L730.20 84.49 L728.74 82.93 L727.22 81.43 L725.65 79.98 L724.03 78.58 L722.36 77.24 L720.65 75.96 L718.89 74.74 L717.09 73.58 L715.25 72.48 L713.37 71.45 L711.46 70.48 L709.51 69.58 L707.54 68.75 L705.53 67.99 L703.50 67.30 L701.45 66.67 L699.38 66.12 L697.29 65.64 L695.18 65.24 L693.06 64.91 L690.93 64.65 L688.79 64.46 L686.65 64.35 L684.50 64.31 M704.27 67.06 L702.36 66.46 L700.43 65.93 L698.48 65.47 L696.52 65.08 L694.54 64.77 L692.54 64.53 L690.54 64.36 L688.53 64.27 L686.52 64.25 L684.50 64.31 M692.68 64.35 L691.06 64.20 L689.42 64.11 L687.79 64.11 L686.14 64.17 L684.50 64.31 M688.78 63.95 L687.71 63.93 L686.65 63.98 L685.57 64.11 L684.50 64.31 M685.62 63.83 L685.24 63.92 L684.87 64.08 L684.50 64.31" fill="none" stroke="#333" stroke-width="1" stroke-dasharray="2 4"/>
<circle cx="684.65" cy="123.75" r="4.8" fill="#6f7074"/>
<circle cx="840.6" cy="125.3" r="61.5" fill="none" stroke="#333" stroke-width="1" stroke-dasharray="1.8 3.4"/>
<path d="M821.10 183.62 L821.38 183.71 L821.69 183.80 L822.03 183.88 L822.38 183.96 L822.76 184.05 L823.16 184.12 L823.58 184.20 L824.02 184.28 L824.49 184.35 L824.97 184.42 L825.47 184.49 L825.99 184.56 L826.53 184.62 L827.08 184.69 L827.65 184.74 L828.24 184.80 L828.84 184.86 L829.45 184.91 L830.08 184.96 L830.73 185.00 L831.38 185.04 L832.04 185.08 L832.72 185.12 L833.41 185.16 L834.10 185.19 L834.80 185.21 L835.51 185.24 L836.23 185.26 L836.95 185.28 L837.67 185.29 L838.40 185.30 L839.13 185.31 L839.87 185.32 L840.60 185.32 L841.33 185.32 L842.07 185.31 L842.80 185.30 L843.53 185.29 L844.25 185.28 L844.97 185.26 L845.69 185.24 L846.40 185.21 L847.10 185.19 L847.79 185.16 L848.48 185.12 L849.16 185.08 L849.82 185.04 L850.47 185.00 L851.12 184.96 L851.75 184.91 L852.36 184.86 L852.96 184.80 L853.55 184.74 L854.12 184.69 L854.67 184.62 L855.21 184.56 L855.73 184.49 L856.23 184.42 L856.71 184.35 L857.18 184.28 L857.62 184.20 L858.04 184.12 L858.44 184.05 L858.82 183.96 L859.17 183.88 L859.51 183.80 L859.82 183.71 L860.10 183.62 M801.67 172.90 L801.93 173.08 L802.24 173.25 L802.60 173.42 L803.00 173.59 L803.45 173.76 L803.95 173.93 L804.49 174.09 L805.07 174.25 L805.70 174.41 L806.36 174.57 L807.08 174.72 L807.83 174.87 L808.62 175.01 L809.45 175.15 L810.32 175.29 L811.22 175.43 L812.16 175.56 L813.14 175.68 L814.15 175.80 L815.19 175.92 L816.26 176.03 L817.36 176.14 L818.49 176.24 L819.65 176.34 L820.83 176.43 L822.04 176.51 L823.27 176.60 L824.52 176.67 L825.79 176.74 L827.08 176.80 L828.38 176.86 L829.70 176.91 L831.04 176.96 L832.38 177.00 L833.74 177.03 L835.10 177.06 L836.47 177.08 L837.84 177.10 L839.22 177.11 L840.60 177.11 L841.98 177.11 L843.36 177.10 L844.73 177.08 L846.10 177.06 L847.46 177.03 L848.82 177.00 L850.16 176.96 L851.50 176.91 L852.82 176.86 L854.12 176.80 L855.41 176.74 L856.68 176.67 L857.93 176.60 L859.16 176.51 L860.37 176.43 L861.55 176.34 L862.71 176.24 L863.84 176.14 L864.94 176.03 L866.01 175.92 L867.05 175.80 L868.06 175.68 L869.04 175.56 L869.98 175.43 L870.88 175.29 L871.75 175.15 L872.58 175.01 L873.37 174.87 L874.12 174.72 L874.84 174.57 L875.50 174.41 L876.13 174.25 L876.71 174.09 L877.25 173.93 L877.75 173.76 L878.20 173.59 L878.60 173.42 L878.96 173.25 L879.27 173.08 L879.53 172.90 M787.63 156.51 L787.86 156.75 L788.15 156.99 L788.50 157.22 L788.92 157.45 L789.40 157.68 L789.95 157.91 L790.55 158.14 L791.22 158.36 L791.94 158.58 L792.73 158.80 L793.57 159.01 L794.48 159.22 L795.43 159.43 L796.44 159.63 L797.51 159.83 L798.63 160.02 L799.80 160.20 L801.02 160.38 L802.29 160.56 L803.60 160.73 L804.96 160.89 L806.36 161.05 L807.81 161.20 L809.29 161.34 L810.82 161.48 L812.38 161.61 L813.97 161.73 L815.60 161.85 L817.25 161.96 L818.94 162.06 L820.65 162.15 L822.38 162.24 L824.14 162.32 L825.92 162.39 L827.72 162.45 L829.53 162.50 L831.35 162.55 L833.19 162.59 L835.03 162.62 L836.88 162.64 L838.74 162.65 L840.60 162.65 L842.46 162.65 L844.32 162.64 L846.17 162.62 L848.01 162.59 L849.85 162.55 L851.67 162.50 L853.48 162.45 L855.28 162.39 L857.06 162.32 L858.82 162.24 L860.55 162.15 L862.26 162.06 L863.95 161.96 L865.60 161.85 L867.23 161.73 L868.82 161.61 L870.38 161.48 L871.91 161.34 L873.39 161.20 L874.84 161.05 L876.24 160.89 L877.60 160.73 L878.91 160.56 L880.18 160.38 L881.40 160.20 L882.57 160.02 L883.69 159.83 L884.76 159.63 L885.77 159.43 L886.73 159.22 L887.63 159.01 L888.47 158.80 L889.26 158.58 L889.98 158.36 L890.65 158.14 L891.25 157.91 L891.80 157.68 L892.28 157.45 L892.70 157.22 L893.05 156.99 L893.34 156.75 L893.57 156.51 M780.07 136.16 L780.18 136.43 L780.37 136.71 L780.62 136.98 L780.95 137.24 L781.36 137.51 L781.83 137.78 L782.38 138.04 L783.00 138.30 L783.69 138.56 L784.44 138.81 L785.27 139.06 L786.16 139.31 L787.12 139.55 L788.15 139.79 L789.24 140.02 L790.39 140.25 L791.60 140.48 L792.87 140.69 L794.20 140.90 L795.59 141.11 L797.03 141.31 L798.53 141.50 L800.07 141.69 L801.67 141.87 L803.31 142.04 L805.00 142.20 L806.73 142.36 L808.51 142.51 L810.32 142.65 L812.17 142.78 L814.05 142.90 L815.97 143.02 L817.91 143.12 L819.89 143.22 L821.88 143.31 L823.91 143.39 L825.95 143.46 L828.01 143.52 L830.08 143.57 L832.17 143.62 L834.27 143.65 L836.38 143.67 L838.49 143.69 L840.60 143.69 L842.71 143.69 L844.82 143.67 L846.93 143.65 L849.03 143.62 L851.12 143.57 L853.19 143.52 L855.25 143.46 L857.29 143.39 L859.32 143.31 L861.31 143.22 L863.29 143.12 L865.23 143.02 L867.15 142.90 L869.03 142.78 L870.88 142.65 L872.69 142.51 L874.47 142.36 L876.20 142.20 L877.89 142.04 L879.53 141.87 L881.13 141.69 L882.67 141.50 L884.17 141.31 L885.61 141.11 L887.00 140.90 L888.33 140.69 L889.60 140.48 L890.81 140.25 L891.96 140.02 L893.05 139.79 L894.08 139.55 L895.04 139.31 L895.93 139.06 L896.76 138.81 L897.51 138.56 L898.20 138.30 L898.82 138.04 L899.37 137.78 L899.84 137.51 L900.25 137.24 L900.58 136.98 L900.83 136.71 L901.02 136.43 L901.13 136.16 M780.03 114.71 L780.07 114.98 L780.18 115.25 L780.37 115.52 L780.62 115.80 L780.95 116.06 L781.36 116.33 L781.83 116.60 L782.38 116.86 L783.00 117.12 L783.69 117.38 L784.44 117.63 L785.27 117.88 L786.16 118.13 L787.12 118.37 L788.15 118.61 L789.24 118.84 L790.39 119.07 L791.60 119.29 L792.87 119.51 L794.20 119.72 L795.59 119.93 L797.03 120.13 L798.53 120.32 L800.07 120.51 L801.67 120.69 L803.31 120.86 L805.00 121.02 L806.73 121.18 L808.51 121.32 L810.32 121.47 L812.17 121.60 L814.05 121.72 L815.97 121.84 L817.91 121.94 L819.89 122.04 L821.88 122.13 L823.91 122.21 L825.95 122.28 L828.01 122.34 L830.08 122.39 L832.17 122.43 L834.27 122.47 L836.38 122.49 L838.49 122.51 L840.60 122.51 L842.71 122.51 L844.82 122.49 L846.93 122.47 L849.03 122.43 L851.12 122.39 L853.19 122.34 L855.25 122.28 L857.29 122.21 L859.32 122.13 L861.31 122.04 L863.29 121.94 L865.23 121.84 L867.15 121.72 L869.03 121.60 L870.88 121.47 L872.69 121.32 L874.47 121.18 L876.20 121.02 L877.89 120.86 L879.53 120.69 L881.13 120.51 L882.67 120.32 L884.17 120.13 L885.61 119.93 L887.00 119.72 L888.33 119.51 L889.60 119.29 L890.81 119.07 L891.96 118.84 L893.05 118.61 L894.08 118.37 L895.04 118.13 L895.93 117.88 L896.76 117.63 L897.51 117.38 L898.20 117.12 L898.82 116.86 L899.37 116.60 L899.84 116.33 L900.25 116.06 L900.58 115.80 L900.83 115.52 L901.02 115.25 L901.13 114.98 L901.17 114.71 M787.47 94.33 L787.37 94.57 L787.34 94.81 L787.37 95.05 L787.47 95.28 L787.63 95.52 L787.86 95.76 L788.15 96.00 L788.50 96.23 L788.92 96.47 L789.40 96.70 L789.95 96.93 L790.55 97.15 L791.22 97.38 L791.94 97.60 L792.73 97.81 L793.57 98.03 L794.48 98.24 L795.43 98.44 L796.44 98.64 L797.51 98.84 L798.63 99.03 L799.80 99.22 L801.02 99.40 L802.29 99.57 L803.60 99.74 L804.96 99.90 L806.36 100.06 L807.81 100.21 L809.29 100.36 L810.82 100.49 L812.38 100.62 L813.97 100.75 L815.60 100.86 L817.25 100.97 L818.94 101.07 L820.65 101.17 L822.38 101.25 L824.14 101.33 L825.92 101.40 L827.72 101.46 L829.53 101.52 L831.35 101.56 L833.19 101.60 L835.03 101.63 L836.88 101.65 L838.74 101.66 L840.60 101.67 L842.46 101.66 L844.32 101.65 L846.17 101.63 L848.01 101.60 L849.85 101.56 L851.67 101.52 L853.48 101.46 L855.28 101.40 L857.06 101.33 L858.82 101.25 L860.55 101.17 L862.26 101.07 L863.95 100.97 L865.60 100.86 L867.23 100.75 L868.82 100.62 L870.38 100.49 L871.91 100.36 L873.39 100.21 L874.84 100.06 L876.24 99.90 L877.60 99.74 L878.91 99.57 L880.18 99.40 L881.40 99.22 L882.57 99.03 L883.69 98.84 L884.76 98.64 L885.77 98.44 L886.73 98.24 L887.63 98.03 L888.47 97.81 L889.26 97.60 L889.98 97.38 L890.65 97.15 L891.25 96.93 L891.80 96.70 L892.28 96.47 L892.70 96.23 L893.05 96.00 L893.34 95.76 L893.57 95.52 L893.73 95.28 L893.83 95.05 L893.86 94.81 L893.83 94.57 L893.73 94.33 M801.45 77.87 L801.29 78.05 L801.16 78.23 L801.09 78.40 L801.07 78.58 L801.09 78.76 L801.16 78.94 L801.29 79.11 L801.45 79.29 L801.67 79.46 L801.93 79.64 L802.24 79.81 L802.60 79.98 L803.00 80.15 L803.45 80.32 L803.95 80.49 L804.49 80.65 L805.07 80.81 L805.70 80.97 L806.36 81.13 L807.08 81.28 L807.83 81.43 L808.62 81.57 L809.45 81.72 L810.32 81.85 L811.22 81.99 L812.16 82.12 L813.14 82.24 L814.15 82.36 L815.19 82.48 L816.26 82.59 L817.36 82.70 L818.49 82.80 L819.65 82.90 L820.83 82.99 L822.04 83.08 L823.27 83.16 L824.52 83.23 L825.79 83.30 L827.08 83.37 L828.38 83.42 L829.70 83.47 L831.04 83.52 L832.38 83.56 L833.74 83.59 L835.10 83.62 L836.47 83.64 L837.84 83.66 L839.22 83.67 L840.60 83.67 L841.98 83.67 L843.36 83.66 L844.73 83.64 L846.10 83.62 L847.46 83.59 L848.82 83.56 L850.16 83.52 L851.50 83.47 L852.82 83.42 L854.12 83.37 L855.41 83.30 L856.68 83.23 L857.93 83.16 L859.16 83.08 L860.37 82.99 L861.55 82.90 L862.71 82.80 L863.84 82.70 L864.94 82.59 L866.01 82.48 L867.05 82.36 L868.06 82.24 L869.04 82.12 L869.98 81.99 L870.88 81.85 L871.75 81.72 L872.58 81.57 L873.37 81.43 L874.12 81.28 L874.84 81.13 L875.50 80.97 L876.13 80.81 L876.71 80.65 L877.25 80.49 L877.75 80.32 L878.20 80.15 L878.60 79.98 L878.96 79.81 L879.27 79.64 L879.53 79.46 L879.75 79.29 L879.91 79.11 L880.04 78.94 L880.11 78.76 L880.13 78.58 L880.11 78.40 L880.04 78.23 L879.91 78.05 L879.75 77.87 M820.83 67.06 L820.60 67.15 L820.38 67.24 L820.19 67.33 L820.03 67.43 L819.89 67.52 L819.77 67.61 L819.68 67.71 L819.62 67.80 L819.58 67.90 L819.57 67.99 L819.58 68.08 L819.62 68.18 L819.68 68.27 L819.77 68.37 L819.89 68.46 L820.03 68.55 L820.19 68.65 L820.38 68.74 L820.60 68.83 L820.83 68.92 L821.10 69.01 L821.38 69.09 L821.69 69.18 L822.03 69.26 L822.38 69.34 L822.76 69.43 L823.16 69.51 L823.58 69.58 L824.02 69.66 L824.49 69.73 L824.97 69.80 L825.47 69.87 L825.99 69.94 L826.53 70.00 L827.08 70.07 L827.65 70.13 L828.24 70.18 L828.84 70.24 L829.45 70.29 L830.08 70.34 L830.73 70.38 L831.38 70.43 L832.04 70.47 L832.72 70.50 L833.41 70.54 L834.10 70.57 L834.80 70.59 L835.51 70.62 L836.23 70.64 L836.95 70.66 L837.67 70.67 L838.40 70.68 L839.13 70.69 L839.87 70.70 L840.60 70.70 L841.33 70.70 L842.07 70.69 L842.80 70.68 L843.53 70.67 L844.25 70.66 L844.97 70.64 L845.69 70.62 L846.40 70.59 L847.10 70.57 L847.79 70.54 L848.48 70.50 L849.16 70.47 L849.82 70.43 L850.47 70.38 L851.12 70.34 L851.75 70.29 L852.36 70.24 L852.96 70.18 L853.55 70.13 L854.12 70.07 L854.67 70.00 L855.21 69.94 L855.73 69.87 L856.23 69.80 L856.71 69.73 L857.18 69.66 L857.62 69.58 L858.04 69.51 L858.44 69.43 L858.82 69.34 L859.17 69.26 L859.51 69.18 L859.82 69.09 L860.10 69.01 L860.37 68.92 L860.60 68.83 L860.82 68.74 L861.01 68.65 L861.17 68.55 L861.31 68.46 L861.43 68.37 L861.52 68.27 L861.58 68.18 L861.62 68.08 L861.63 67.99 L861.62 67.90 L861.58 67.80 L861.52 67.71 L861.43 67.61 L861.31 67.52 L861.17 67.43 L861.01 67.33 L860.82 67.24 L860.60 67.15 L860.37 67.06 M839.48 63.83 L839.86 63.92 L840.23 64.08 L840.60 64.31 M836.32 63.95 L837.39 63.93 L838.45 63.98 L839.53 64.11 L840.60 64.31 M832.42 64.35 L834.04 64.20 L835.68 64.11 L837.31 64.11 L838.96 64.17 L840.60 64.31 M820.83 67.06 L822.74 66.46 L824.67 65.93 L826.62 65.47 L828.58 65.08 L830.56 64.77 L832.56 64.53 L834.56 64.36 L836.57 64.27 L838.58 64.25 L840.60 64.31 M779.10 125.30 L779.14 123.17 L779.25 121.05 L779.44 118.93 L779.70 116.81 L780.03 114.71 L780.44 112.62 L780.93 110.55 L781.48 108.49 L782.11 106.45 L782.81 104.44 L783.58 102.45 L784.42 100.49 L785.32 98.56 L786.30 96.67 L787.34 94.81 L788.45 92.98 L789.61 91.20 L790.85 89.45 L792.14 87.75 L793.49 86.10 L794.90 84.49 L796.36 82.93 L797.88 81.43 L799.45 79.98 L801.07 78.58 L802.74 77.24 L804.45 75.96 L806.21 74.74 L808.01 73.58 L809.85 72.48 L811.73 71.45 L813.64 70.48 L815.59 69.58 L817.56 68.75 L819.57 67.99 L821.60 67.30 L823.65 66.67 L825.72 66.12 L827.81 65.64 L829.92 65.24 L832.04 64.91 L834.17 64.65 L836.31 64.46 L838.45 64.35 L840.60 64.31 M818.95 182.86 L817.09 182.12 L815.27 181.30 L813.47 180.42 L811.70 179.47 L809.98 178.46 L808.28 177.38 L806.63 176.23 L805.02 175.03 L803.45 173.76 L801.93 172.44 L800.45 171.05 L799.03 169.61 L797.65 168.12 L796.33 166.58 L795.06 164.98 L793.85 163.34 L792.69 161.65 L791.59 159.92 L790.55 158.14 L789.57 156.32 L788.66 154.47 L787.81 152.58 L787.02 150.66 L786.29 148.70 L785.64 146.72 L785.05 144.71 L784.53 142.68 L784.07 140.63 L783.69 138.56 L783.37 136.47 L783.13 134.37 L782.95 132.26 L782.84 130.14 L782.81 128.01 L782.84 125.88 L782.95 123.75 L783.13 121.62 L783.37 119.49 L783.69 117.38 L784.07 115.27 L784.53 113.17 L785.05 111.09 L785.64 109.03 L786.29 106.99 L787.02 104.97 L787.81 102.97 L788.66 101.00 L789.57 99.06 L790.55 97.15 L791.59 95.28 L792.69 93.44 L793.85 91.64 L795.06 89.89 L796.33 88.17 L797.65 86.50 L799.03 84.88 L800.45 83.31 L801.93 81.79 L803.45 80.32 L805.02 78.91 L806.63 77.55 L808.28 76.25 L809.98 75.02 L811.70 73.84 L813.47 72.72 L815.27 71.67 L817.09 70.69 L818.95 69.77 L820.83 68.92 L822.74 68.13 L824.67 67.42 L826.62 66.78 L828.58 66.21 L830.56 65.71 L832.56 65.28 L834.56 64.93 L836.57 64.65 L838.58 64.44 L840.60 64.31 M830.80 186.01 L829.20 185.71 L827.61 185.33 L826.04 184.88 L824.49 184.35 L822.95 183.75 L821.44 183.09 L819.95 182.35 L818.48 181.54 L817.04 180.66 L815.63 179.72 L814.26 178.71 L812.91 177.63 L811.60 176.49 L810.32 175.29 L809.08 174.03 L807.87 172.71 L806.71 171.33 L805.59 169.89 L804.51 168.40 L803.48 166.86 L802.49 165.27 L801.54 163.62 L800.65 161.94 L799.80 160.20 L799.00 158.43 L798.26 156.61 L797.56 154.76 L796.92 152.87 L796.33 150.94 L795.79 148.99 L795.31 147.00 L794.89 144.99 L794.52 142.96 L794.20 140.90 L793.95 138.83 L793.75 136.74 L793.60 134.63 L793.52 132.52 L793.49 130.39 L793.52 128.26 L793.60 126.12 L793.75 123.99 L793.95 121.85 L794.20 119.72 L794.52 117.60 L794.89 115.49 L795.31 113.38 L795.79 111.30 L796.33 109.23 L796.92 107.17 L797.56 105.15 L798.26 103.14 L799.00 101.16 L799.80 99.22 L800.65 97.30 L801.54 95.42 L802.49 93.57 L803.48 91.76 L804.51 90.00 L805.59 88.27 L806.71 86.60 L807.87 84.97 L809.08 83.38 L810.32 81.85 L811.60 80.38 L812.91 78.95 L814.26 77.59 L815.63 76.28 L817.04 75.03 L818.48 73.84 L819.95 72.72 L821.44 71.66 L822.95 70.66 L824.49 69.73 L826.04 68.87 L827.61 68.08 L829.20 67.36 L830.80 66.70 L832.42 66.12 L834.04 65.61 L835.68 65.18 L837.31 64.82 L838.96 64.53 L840.60 64.31 M835.26 186.55 L834.21 186.38 L833.16 186.14 L832.12 185.82 L831.10 185.42 L830.08 184.96 L829.08 184.42 L828.09 183.81 L827.12 183.12 L826.16 182.37 L825.23 181.55 L824.30 180.66 L823.40 179.70 L822.53 178.67 L821.67 177.58 L820.83 176.43 L820.02 175.21 L819.24 173.94 L818.48 172.60 L817.75 171.21 L817.04 169.76 L816.37 168.25 L815.72 166.70 L815.11 165.09 L814.52 163.44 L813.97 161.73 L813.45 159.99 L812.96 158.20 L812.51 156.37 L812.09 154.51 L811.70 152.61 L811.36 150.67 L811.04 148.70 L810.76 146.71 L810.52 144.69 L810.32 142.65 L810.15 140.58 L810.02 138.50 L809.92 136.40 L809.87 134.28 L809.85 132.16 L809.87 130.03 L809.92 127.89 L810.02 125.75 L810.15 123.61 L810.32 121.47 L810.52 119.33 L810.76 117.20 L811.04 115.08 L811.36 112.98 L811.70 110.89 L812.09 108.81 L812.51 106.76 L812.96 104.73 L813.45 102.72 L813.97 100.75 L814.52 98.80 L815.11 96.88 L815.72 95.00 L816.37 93.16 L817.04 91.35 L817.75 89.59 L818.48 87.87 L819.24 86.19 L820.02 84.57 L820.83 82.99 L821.67 81.46 L822.53 79.99 L823.40 78.57 L824.30 77.21 L825.23 75.91 L826.16 74.67 L827.12 73.49 L828.09 72.37 L829.08 71.32 L830.08 70.34 L831.10 69.42 L832.12 68.57 L833.16 67.78 L834.21 67.07 L835.26 66.43 L836.32 65.86 L837.39 65.36 L838.45 64.94 L839.53 64.59 L840.60 64.31 M839.11 186.78 L838.75 186.72 L838.38 186.58 L838.02 186.36 L837.66 186.08 L837.30 185.71 L836.95 185.28 L836.60 184.77 L836.26 184.19 L835.92 183.54 L835.59 182.81 L835.26 182.02 L834.94 181.15 L834.63 180.22 L834.32 179.23 L834.03 178.16 L833.74 177.03 L833.45 175.84 L833.18 174.59 L832.92 173.28 L832.66 171.91 L832.42 170.48 L832.18 168.99 L831.96 167.46 L831.75 165.87 L831.54 164.23 L831.35 162.55 L831.17 160.82 L831.00 159.05 L830.84 157.23 L830.70 155.38 L830.56 153.49 L830.44 151.57 L830.33 149.61 L830.24 147.62 L830.15 145.61 L830.08 143.57 L830.02 141.51 L829.98 139.43 L829.95 137.34 L829.93 135.22 L829.92 133.10 L829.93 130.97 L829.95 128.83 L829.98 126.68 L830.02 124.54 L830.08 122.39 L830.15 120.25 L830.24 118.11 L830.33 115.99 L830.44 113.87 L830.56 111.77 L830.70 109.69 L830.84 107.62 L831.00 105.58 L831.17 103.56 L831.35 101.56 L831.54 99.60 L831.75 97.66 L831.96 95.76 L832.18 93.90 L832.42 92.07 L832.66 90.29 L832.92 88.55 L833.18 86.85 L833.45 85.20 L833.74 83.59 L834.03 82.04 L834.32 80.54 L834.63 79.10 L834.94 77.71 L835.26 76.38 L835.59 75.11 L835.92 73.90 L836.26 72.76 L836.60 71.68 L836.95 70.66 L837.30 69.71 L837.66 68.82 L838.02 68.01 L838.38 67.27 L838.75 66.59 L839.11 65.99 L839.48 65.46 L839.86 65.00 L840.23 64.62 L840.60 64.31 M842.09 186.78 L842.45 186.72 L842.82 186.58 L843.18 186.36 L843.54 186.08 L843.90 185.71 L844.25 185.28 L844.60 184.77 L844.94 184.19 L845.28 183.54 L845.61 182.81 L845.94 182.02 L846.26 181.15 L846.57 180.22 L846.88 179.23 L847.17 178.16 L847.46 177.03 L847.75 175.84 L848.02 174.59 L848.28 173.28 L848.54 171.91 L848.78 170.48 L849.02 168.99 L849.24 167.46 L849.45 165.87 L849.66 164.23 L849.85 162.55 L850.03 160.82 L850.20 159.05 L850.36 157.23 L850.50 155.38 L850.64 153.49 L850.76 151.57 L850.87 149.61 L850.96 147.62 L851.05 145.61 L851.12 143.57 L851.18 141.51 L851.22 139.43 L851.25 137.34 L851.27 135.22 L851.28 133.10 L851.27 130.97 L851.25 128.83 L851.22 126.68 L851.18 124.54 L851.12 122.39 L851.05 120.25 L850.96 118.11 L850.87 115.99 L850.76 113.87 L850.64 111.77 L850.50 109.69 L850.36 107.62 L850.20 105.58 L850.03 103.56 L849.85 101.56 L849.66 99.60 L849.45 97.66 L849.24 95.76 L849.02 93.90 L848.78 92.07 L848.54 90.29 L848.28 88.55 L848.02 86.85 L847.75 85.20 L847.46 83.59 L847.17 82.04 L846.88 80.54 L846.57 79.10 L846.26 77.71 L845.94 76.38 L845.61 75.11 L845.28 73.90 L844.94 72.76 L844.60 71.68 L844.25 70.66 L843.90 69.71 L843.54 68.82 L843.18 68.01 L842.82 67.27 L842.45 66.59 L842.09 65.99 L841.72 65.46 L841.34 65.00 L840.97 64.62 L840.60 64.31 M845.94 186.55 L846.99 186.38 L848.04 186.14 L849.08 185.82 L850.10 185.42 L851.12 184.96 L852.12 184.42 L853.11 183.81 L854.08 183.12 L855.04 182.37 L855.98 181.55 L856.90 180.66 L857.80 179.70 L858.67 178.67 L859.53 177.58 L860.37 176.43 L861.18 175.21 L861.96 173.94 L862.72 172.60 L863.45 171.21 L864.16 169.76 L864.83 168.25 L865.48 166.70 L866.09 165.09 L866.68 163.44 L867.23 161.73 L867.75 159.99 L868.24 158.20 L868.69 156.37 L869.11 154.51 L869.50 152.61 L869.84 150.67 L870.16 148.70 L870.44 146.71 L870.68 144.69 L870.88 142.65 L871.05 140.58 L871.18 138.50 L871.28 136.40 L871.33 134.28 L871.35 132.16 L871.33 130.03 L871.28 127.89 L871.18 125.75 L871.05 123.61 L870.88 121.47 L870.68 119.33 L870.44 117.20 L870.16 115.08 L869.84 112.98 L869.50 110.89 L869.11 108.81 L868.69 106.76 L868.24 104.73 L867.75 102.72 L867.23 100.75 L866.68 98.80 L866.09 96.88 L865.48 95.00 L864.83 93.16 L864.16 91.35 L863.45 89.59 L862.72 87.87 L861.96 86.19 L861.18 84.57 L860.37 82.99 L859.53 81.46 L858.67 79.99 L857.80 78.57 L856.90 77.21 L855.98 75.91 L855.04 74.67 L854.08 73.49 L853.11 72.37 L852.12 71.32 L851.12 70.34 L850.10 69.42 L849.08 68.57 L848.04 67.78 L846.99 67.07 L845.94 66.43 L844.88 65.86 L843.81 65.36 L842.75 64.94 L841.67 64.59 L840.60 64.31 M850.40 186.01 L852.00 185.71 L853.59 185.33 L855.16 184.88 L856.71 184.35 L858.25 183.75 L859.76 183.09 L861.25 182.35 L862.72 181.54 L864.16 180.66 L865.57 179.72 L866.94 178.71 L868.29 177.63 L869.60 176.49 L870.88 175.29 L872.12 174.03 L873.33 172.71 L874.49 171.33 L875.61 169.89 L876.69 168.40 L877.72 166.86 L878.71 165.27 L879.66 163.62 L880.55 161.94 L881.40 160.20 L882.20 158.43 L882.94 156.61 L883.64 154.76 L884.28 152.87 L884.87 150.94 L885.41 148.99 L885.89 147.00 L886.31 144.99 L886.68 142.96 L887.00 140.90 L887.25 138.83 L887.45 136.74 L887.60 134.63 L887.68 132.52 L887.71 130.39 L887.68 128.26 L887.60 126.12 L887.45 123.99 L887.25 121.85 L887.00 119.72 L886.68 117.60 L886.31 115.49 L885.89 113.38 L885.41 111.30 L884.87 109.23 L884.28 107.17 L883.64 105.15 L882.94 103.14 L882.20 101.16 L881.40 99.22 L880.55 97.30 L879.66 95.42 L878.71 93.57 L877.72 91.76 L876.69 90.00 L875.61 88.27 L874.49 86.60 L873.33 84.97 L872.12 83.38 L870.88 81.85 L869.60 80.38 L868.29 78.95 L866.94 77.59 L865.57 76.28 L864.16 75.03 L862.72 73.84 L861.25 72.72 L859.76 71.66 L858.25 70.66 L856.71 69.73 L855.16 68.87 L853.59 68.08 L852.00 67.36 L850.40 66.70 L848.78 66.12 L847.16 65.61 L845.52 65.18 L843.89 64.82 L842.24 64.53 L840.60 64.31 M862.25 182.86 L864.11 182.12 L865.93 181.30 L867.73 180.42 L869.50 179.47 L871.22 178.46 L872.92 177.38 L874.57 176.23 L876.18 175.03 L877.75 173.76 L879.27 172.44 L880.75 171.05 L882.17 169.61 L883.55 168.12 L884.87 166.58 L886.14 164.98 L887.35 163.34 L888.51 161.65 L889.61 159.92 L890.65 158.14 L891.63 156.32 L892.54 154.47 L893.39 152.58 L894.18 150.66 L894.91 148.70 L895.56 146.72 L896.15 144.71 L896.67 142.68 L897.13 140.63 L897.51 138.56 L897.83 136.47 L898.07 134.37 L898.25 132.26 L898.36 130.14 L898.39 128.01 L898.36 125.88 L898.25 123.75 L898.07 121.62 L897.83 119.49 L897.51 117.38 L897.13 115.27 L896.67 113.17 L896.15 111.09 L895.56 109.03 L894.91 106.99 L894.18 104.97 L893.39 102.97 L892.54 101.00 L891.63 99.06 L890.65 97.15 L889.61 95.28 L888.51 93.44 L887.35 91.64 L886.14 89.89 L884.87 88.17 L883.55 86.50 L882.17 84.88 L880.75 83.31 L879.27 81.79 L877.75 80.32 L876.18 78.91 L874.57 77.55 L872.92 76.25 L871.22 75.02 L869.50 73.84 L867.73 72.72 L865.93 71.67 L864.11 70.69 L862.25 69.77 L860.37 68.92 L858.46 68.13 L856.53 67.42 L854.58 66.78 L852.62 66.21 L850.64 65.71 L848.64 65.28 L846.64 64.93 L844.63 64.65 L842.62 64.44 L840.60 64.31 M902.10 125.30 L902.06 123.17 L901.95 121.05 L901.76 118.93 L901.50 116.81 L901.17 114.71 L900.76 112.62 L900.27 110.55 L899.72 108.49 L899.09 106.45 L898.39 104.44 L897.62 102.45 L896.78 100.49 L895.88 98.56 L894.90 96.67 L893.86 94.81 L892.75 92.98 L891.59 91.20 L890.35 89.45 L889.06 87.75 L887.71 86.10 L886.30 84.49 L884.84 82.93 L883.32 81.43 L881.75 79.98 L880.13 78.58 L878.46 77.24 L876.75 75.96 L874.99 74.74 L873.19 73.58 L871.35 72.48 L869.47 71.45 L867.56 70.48 L865.61 69.58 L863.64 68.75 L861.63 67.99 L859.60 67.30 L857.55 66.67 L855.48 66.12 L853.39 65.64 L851.28 65.24 L849.16 64.91 L847.03 64.65 L844.89 64.46 L842.75 64.35 L840.60 64.31 M860.37 67.06 L858.46 66.46 L856.53 65.93 L854.58 65.47 L852.62 65.08 L850.64 64.77 L848.64 64.53 L846.64 64.36 L844.63 64.27 L842.62 64.25 L840.60 64.31 M848.78 64.35 L847.16 64.20 L845.52 64.11 L843.89 64.11 L842.24 64.17 L840.60 64.31 M844.88 63.95 L843.81 63.93 L842.75 63.98 L841.67 64.11 L840.60 64.31 M841.72 63.83 L841.34 63.92 L840.97 64.08 L840.60 64.31" fill="none" stroke="#333" stroke-width="1" stroke-dasharray="2 4"/>
<circle cx="780.2" cy="123.75" r="4.8" fill="#6f7074"/>
<circle cx="1739.5" cy="125.3" r="61.5" fill="none" stroke="#333" stroke-width="1" stroke-dasharray="1.8 3.4"/>
<path d="M1720.00 183.62 L1720.28 183.71 L1720.59 183.80 L1720.93 183.88 L1721.28 183.96 L1721.66 184.05 L1722.06 184.12 L1722.48 184.20 L1722.92 184.28 L1723.39 184.35 L1723.87 184.42 L1724.37 184.49 L1724.89 184.56 L1725.43 184.62 L1725.98 184.69 L1726.55 184.74 L1727.14 184.80 L1727.74 184.86 L1728.35 184.91 L1728.98 184.96 L1729.63 185.00 L1730.28 185.04 L1730.94 185.08 L1731.62 185.12 L1732.31 185.16 L1733.00 185.19 L1733.70 185.21 L1734.41 185.24 L1735.13 185.26 L1735.85 185.28 L1736.57 185.29 L1737.30 185.30 L1738.03 185.31 L1738.77 185.32 L1739.50 185.32 L1740.23 185.32 L1740.97 185.31 L1741.70 185.30 L1742.43 185.29 L1743.15 185.28 L1743.87 185.26 L1744.59 185.24 L1745.30 185.21 L1746.00 185.19 L1746.69 185.16 L1747.38 185.12 L1748.06 185.08 L1748.72 185.04 L1749.37 185.00 L1750.02 184.96 L1750.65 184.91 L1751.26 184.86 L1751.86 184.80 L1752.45 184.74 L1753.02 184.69 L1753.57 184.62 L1754.11 184.56 L1754.63 184.49 L1755.13 184.42 L1755.61 184.35 L1756.08 184.28 L1756.52 184.20 L1756.94 184.12 L1757.34 184.05 L1757.72 183.96 L1758.07 183.88 L1758.41 183.80 L1758.72 183.71 L1759.00 183.62 M1700.57 172.90 L1700.83 173.08 L1701.14 173.25 L1701.50 173.42 L1701.90 173.59 L1702.35 173.76 L1702.85 173.93 L1703.39 174.09 L1703.97 174.25 L1704.60 174.41 L1705.26 174.57 L1705.98 174.72 L1706.73 174.87 L1707.52 175.01 L1708.35 175.15 L1709.22 175.29 L1710.12 175.43 L1711.06 175.56 L1712.04 175.68 L1713.05 175.80 L1714.09 175.92 L1715.16 176.03 L1716.26 176.14 L1717.39 176.24 L1718.55 176.34 L1719.73 176.43 L1720.94 176.51 L1722.17 176.60 L1723.42 176.67 L1724.69 176.74 L1725.98 176.80 L1727.28 176.86 L1728.60 176.91 L1729.94 176.96 L1731.28 177.00 L1732.64 177.03 L1734.00 177.06 L1735.37 177.08 L1736.74 177.10 L1738.12 177.11 L1739.50 177.11 L1740.88 177.11 L1742.26 177.10 L1743.63 177.08 L1745.00 177.06 L1746.36 177.03 L1747.72 177.00 L1749.06 176.96 L1750.40 176.91 L1751.72 176.86 L1753.02 176.80 L1754.31 176.74 L1755.58 176.67 L1756.83 176.60 L1758.06 176.51 L1759.27 176.43 L1760.45 176.34 L1761.61 176.24 L1762.74 176.14 L1763.84 176.03 L1764.91 175.92 L1765.95 175.80 L1766.96 175.68 L1767.94 175.56 L1768.88 175.43 L1769.78 175.29 L1770.65 175.15 L1771.48 175.01 L1772.27 174.87 L1773.02 174.72 L1773.74 174.57 L1774.40 174.41 L1775.03 174.25 L1775.61 174.09 L1776.15 173.93 L1776.65 173.76 L1777.10 173.59 L1777.50 173.42 L1777.86 173.25 L1778.17 173.08 L1778.43 172.90 M1686.53 156.51 L1686.76 156.75 L1687.05 156.99 L1687.40 157.22 L1687.82 157.45 L1688.30 157.68 L1688.85 157.91 L1689.45 158.14 L1690.12 158.36 L1690.84 158.58 L1691.63 158.80 L1692.47 159.01 L1693.38 159.22 L1694.33 159.43 L1695.34 159.63 L1696.41 159.83 L1697.53 160.02 L1698.70 160.20 L1699.92 160.38 L1701.19 160.56 L1702.50 160.73 L1703.86 160.89 L1705.26 161.05 L1706.71 161.20 L1708.19 161.34 L1709.72 161.48 L1711.28 161.61 L1712.87 161.73 L1714.50 161.85 L1716.15 161.96 L1717.84 162.06 L1719.55 162.15 L1721.28 162.24 L1723.04 162.32 L1724.82 162.39 L1726.62 162.45 L1728.43 162.50 L1730.25 162.55 L1732.09 162.59 L1733.93 162.62 L1735.78 162.64 L1737.64 162.65 L1739.50 162.65 L1741.36 162.65 L1743.22 162.64 L1745.07 162.62 L1746.91 162.59 L1748.75 162.55 L1750.57 162.50 L1752.38 162.45 L1754.18 162.39 L1755.96 162.32 L1757.72 162.24 L1759.45 162.15 L1761.16 162.06 L1762.85 161.96 L1764.50 161.85 L1766.13 161.73 L1767.72 161.61 L1769.28 161.48 L1770.81 161.34 L1772.29 161.20 L1773.74 161.05 L1775.14 160.89 L1776.50 160.73 L1777.81 160.56 L1779.08 160.38 L1780.30 160.20 L1781.47 160.02 L1782.59 159.83 L1783.66 159.63 L1784.67 159.43 L1785.62 159.22 L1786.53 159.01 L1787.37 158.80 L1788.16 158.58 L1788.88 158.36 L1789.55 158.14 L1790.15 157.91 L1790.70 157.68 L1791.18 157.45 L1791.60 157.22 L1791.95 156.99 L1792.24 156.75 L1792.47 156.51 M1678.97 136.16 L1679.08 136.43 L1679.27 136.71 L1679.52 136.98 L1679.85 137.24 L1680.26 137.51 L1680.73 137.78 L1681.28 138.04 L1681.90 138.30 L1682.59 138.56 L1683.34 138.81 L1684.17 139.06 L1685.06 139.31 L1686.02 139.55 L1687.05 139.79 L1688.14 140.02 L1689.29 140.25 L1690.50 140.48 L1691.77 140.69 L1693.10 140.90 L1694.49 141.11 L1695.93 141.31 L1697.43 141.50 L1698.97 141.69 L1700.57 141.87 L1702.21 142.04 L1703.90 142.20 L1705.63 142.36 L1707.41 142.51 L1709.22 142.65 L1711.07 142.78 L1712.95 142.90 L1714.87 143.02 L1716.81 143.12 L1718.79 143.22 L1720.78 143.31 L1722.81 143.39 L1724.85 143.46 L1726.91 143.52 L1728.98 143.57 L1731.07 143.62 L1733.17 143.65 L1735.28 143.67 L1737.39 143.69 L1739.50 143.69 L1741.61 143.69 L1743.72 143.67 L1745.83 143.65 L1747.93 143.62 L1750.02 143.57 L1752.09 143.52 L1754.15 143.46 L1756.19 143.39 L1758.22 143.31 L1760.21 143.22 L1762.19 143.12 L1764.13 143.02 L1766.05 142.90 L1767.93 142.78 L1769.78 142.65 L1771.59 142.51 L1773.37 142.36 L1775.10 142.20 L1776.79 142.04 L1778.43 141.87 L1780.03 141.69 L1781.57 141.50 L1783.07 141.31 L1784.51 141.11 L1785.90 140.90 L1787.23 140.69 L1788.50 140.48 L1789.71 140.25 L1790.86 140.02 L1791.95 139.79 L1792.98 139.55 L1793.94 139.31 L1794.83 139.06 L1795.66 138.81 L1796.41 138.56 L1797.10 138.30 L1797.72 138.04 L1798.27 137.78 L1798.74 137.51 L1799.15 137.24 L1799.48 136.98 L1799.73 136.71 L1799.92 136.43 L1800.03 136.16 M1678.93 114.71 L1678.97 114.98 L1679.08 115.25 L1679.27 115.52 L1679.52 115.80 L1679.85 116.06 L1680.26 116.33 L1680.73 116.60 L1681.28 116.86 L1681.90 117.12 L1682.59 117.38 L1683.34 117.63 L1684.17 117.88 L1685.06 118.13 L1686.02 118.37 L1687.05 118.61 L1688.14 118.84 L1689.29 119.07 L1690.50 119.29 L1691.77 119.51 L1693.10 119.72 L1694.49 119.93 L1695.93 120.13 L1697.43 120.32 L1698.97 120.51 L1700.57 120.69 L1702.21 120.86 L1703.90 121.02 L1705.63 121.18 L1707.41 121.32 L1709.22 121.47 L1711.07 121.60 L1712.95 121.72 L1714.87 121.84 L1716.81 121.94 L1718.79 122.04 L1720.78 122.13 L1722.81 122.21 L1724.85 122.28 L1726.91 122.34 L1728.98 122.39 L1731.07 122.43 L1733.17 122.47 L1735.28 122.49 L1737.39 122.51 L1739.50 122.51 L1741.61 122.51 L1743.72 122.49 L1745.83 122.47 L1747.93 122.43 L1750.02 122.39 L1752.09 122.34 L1754.15 122.28 L1756.19 122.21 L1758.22 122.13 L1760.21 122.04 L1762.19 121.94 L1764.13 121.84 L1766.05 121.72 L1767.93 121.60 L1769.78 121.47 L1771.59 121.32 L1773.37 121.18 L1775.10 121.02 L1776.79 120.86 L1778.43 120.69 L1780.03 120.51 L1781.57 120.32 L1783.07 120.13 L1784.51 119.93 L1785.90 119.72 L1787.23 119.51 L1788.50 119.29 L1789.71 119.07 L1790.86 118.84 L1791.95 118.61 L1792.98 118.37 L1793.94 118.13 L1794.83 117.88 L1795.66 117.63 L1796.41 117.38 L1797.10 117.12 L1797.72 116.86 L1798.27 116.60 L1798.74 116.33 L1799.15 116.06 L1799.48 115.80 L1799.73 115.52 L1799.92 115.25 L1800.03 114.98 L1800.07 114.71 M1686.37 94.33 L1686.27 94.57 L1686.24 94.81 L1686.27 95.05 L1686.37 95.28 L1686.53 95.52 L1686.76 95.76 L1687.05 96.00 L1687.40 96.23 L1687.82 96.47 L1688.30 96.70 L1688.85 96.93 L1689.45 97.15 L1690.12 97.38 L1690.84 97.60 L1691.63 97.81 L1692.47 98.03 L1693.38 98.24 L1694.33 98.44 L1695.34 98.64 L1696.41 98.84 L1697.53 99.03 L1698.70 99.22 L1699.92 99.40 L1701.19 99.57 L1702.50 99.74 L1703.86 99.90 L1705.26 100.06 L1706.71 100.21 L1708.19 100.36 L1709.72 100.49 L1711.28 100.62 L1712.87 100.75 L1714.50 100.86 L1716.15 100.97 L1717.84 101.07 L1719.55 101.17 L1721.28 101.25 L1723.04 101.33 L1724.82 101.40 L1726.62 101.46 L1728.43 101.52 L1730.25 101.56 L1732.09 101.60 L1733.93 101.63 L1735.78 101.65 L1737.64 101.66 L1739.50 101.67 L1741.36 101.66 L1743.22 101.65 L1745.07 101.63 L1746.91 101.60 L1748.75 101.56 L1750.57 101.52 L1752.38 101.46 L1754.18 101.40 L1755.96 101.33 L1757.72 101.25 L1759.45 101.17 L1761.16 101.07 L1762.85 100.97 L1764.50 100.86 L1766.13 100.75 L1767.72 100.62 L1769.28 100.49 L1770.81 100.36 L1772.29 100.21 L1773.74 100.06 L1775.14 99.90 L1776.50 99.74 L1777.81 99.57 L1779.08 99.40 L1780.30 99.22 L1781.47 99.03 L1782.59 98.84 L1783.66 98.64 L1784.67 98.44 L1785.62 98.24 L1786.53 98.03 L1787.37 97.81 L1788.16 97.60 L1788.88 97.38 L1789.55 97.15 L1790.15 96.93 L1790.70 96.70 L1791.18 96.47 L1791.60 96.23 L1791.95 96.00 L1792.24 95.76 L1792.47 95.52 L1792.63 95.28 L1792.73 95.05 L1792.76 94.81 L1792.73 94.57 L1792.63 94.33 M1700.35 77.87 L1700.19 78.05 L1700.06 78.23 L1699.99 78.40 L1699.97 78.58 L1699.99 78.76 L1700.06 78.94 L1700.19 79.11 L1700.35 79.29 L1700.57 79.46 L1700.83 79.64 L1701.14 79.81 L1701.50 79.98 L1701.90 80.15 L1702.35 80.32 L1702.85 80.49 L1703.39 80.65 L1703.97 80.81 L1704.60 80.97 L1705.26 81.13 L1705.98 81.28 L1706.73 81.43 L1707.52 81.57 L1708.35 81.72 L1709.22 81.85 L1710.12 81.99 L1711.06 82.12 L1712.04 82.24 L1713.05 82.36 L1714.09 82.48 L1715.16 82.59 L1716.26 82.70 L1717.39 82.80 L1718.55 82.90 L1719.73 82.99 L1720.94 83.08 L1722.17 83.16 L1723.42 83.23 L1724.69 83.30 L1725.98 83.37 L1727.28 83.42 L1728.60 83.47 L1729.94 83.52 L1731.28 83.56 L1732.64 83.59 L1734.00 83.62 L1735.37 83.64 L1736.74 83.66 L1738.12 83.67 L1739.50 83.67 L1740.88 83.67 L1742.26 83.66 L1743.63 83.64 L1745.00 83.62 L1746.36 83.59 L1747.72 83.56 L1749.06 83.52 L1750.40 83.47 L1751.72 83.42 L1753.02 83.37 L1754.31 83.30 L1755.58 83.23 L1756.83 83.16 L1758.06 83.08 L1759.27 82.99 L1760.45 82.90 L1761.61 82.80 L1762.74 82.70 L1763.84 82.59 L1764.91 82.48 L1765.95 82.36 L1766.96 82.24 L1767.94 82.12 L1768.88 81.99 L1769.78 81.85 L1770.65 81.72 L1771.48 81.57 L1772.27 81.43 L1773.02 81.28 L1773.74 81.13 L1774.40 80.97 L1775.03 80.81 L1775.61 80.65 L1776.15 80.49 L1776.65 80.32 L1777.10 80.15 L1777.50 79.98 L1777.86 79.81 L1778.17 79.64 L1778.43 79.46 L1778.65 79.29 L1778.81 79.11 L1778.94 78.94 L1779.01 78.76 L1779.03 78.58 L1779.01 78.40 L1778.94 78.23 L1778.81 78.05 L1778.65 77.87 M1719.73 67.06 L1719.50 67.15 L1719.28 67.24 L1719.09 67.33 L1718.93 67.43 L1718.79 67.52 L1718.67 67.61 L1718.58 67.71 L1718.52 67.80 L1718.48 67.90 L1718.47 67.99 L1718.48 68.08 L1718.52 68.18 L1718.58 68.27 L1718.67 68.37 L1718.79 68.46 L1718.93 68.55 L1719.09 68.65 L1719.28 68.74 L1719.50 68.83 L1719.73 68.92 L1720.00 69.01 L1720.28 69.09 L1720.59 69.18 L1720.93 69.26 L1721.28 69.34 L1721.66 69.43 L1722.06 69.51 L1722.48 69.58 L1722.92 69.66 L1723.39 69.73 L1723.87 69.80 L1724.37 69.87 L1724.89 69.94 L1725.43 70.00 L1725.98 70.07 L1726.55 70.13 L1727.14 70.18 L1727.74 70.24 L1728.35 70.29 L1728.98 70.34 L1729.63 70.38 L1730.28 70.43 L1730.94 70.47 L1731.62 70.50 L1732.31 70.54 L1733.00 70.57 L1733.70 70.59 L1734.41 70.62 L1735.13 70.64 L1735.85 70.66 L1736.57 70.67 L1737.30 70.68 L1738.03 70.69 L1738.77 70.70 L1739.50 70.70 L1740.23 70.70 L1740.97 70.69 L1741.70 70.68 L1742.43 70.67 L1743.15 70.66 L1743.87 70.64 L1744.59 70.62 L1745.30 70.59 L1746.00 70.57 L1746.69 70.54 L1747.38 70.50 L1748.06 70.47 L1748.72 70.43 L1749.37 70.38 L1750.02 70.34 L1750.65 70.29 L1751.26 70.24 L1751.86 70.18 L1752.45 70.13 L1753.02 70.07 L1753.57 70.00 L1754.11 69.94 L1754.63 69.87 L1755.13 69.80 L1755.61 69.73 L1756.08 69.66 L1756.52 69.58 L1756.94 69.51 L1757.34 69.43 L1757.72 69.34 L1758.07 69.26 L1758.41 69.18 L1758.72 69.09 L1759.00 69.01 L1759.27 68.92 L1759.50 68.83 L1759.72 68.74 L1759.91 68.65 L1760.07 68.55 L1760.21 68.46 L1760.33 68.37 L1760.42 68.27 L1760.48 68.18 L1760.52 68.08 L1760.53 67.99 L1760.52 67.90 L1760.48 67.80 L1760.42 67.71 L1760.33 67.61 L1760.21 67.52 L1760.07 67.43 L1759.91 67.33 L1759.72 67.24 L1759.50 67.15 L1759.27 67.06 M1738.38 63.83 L1738.76 63.92 L1739.13 64.08 L1739.50 64.31 M1735.22 63.95 L1736.29 63.93 L1737.35 63.98 L1738.43 64.11 L1739.50 64.31 M1731.32 64.35 L1732.94 64.20 L1734.58 64.11 L1736.21 64.11 L1737.86 64.17 L1739.50 64.31 M1719.73 67.06 L1721.64 66.46 L1723.57 65.93 L1725.52 65.47 L1727.48 65.08 L1729.46 64.77 L1731.46 64.53 L1733.46 64.36 L1735.47 64.27 L1737.48 64.25 L1739.50 64.31 M1678.00 125.30 L1678.04 123.17 L1678.15 121.05 L1678.34 118.93 L1678.60 116.81 L1678.93 114.71 L1679.34 112.62 L1679.83 110.55 L1680.38 108.49 L1681.01 106.45 L1681.71 104.44 L1682.48 102.45 L1683.32 100.49 L1684.22 98.56 L1685.20 96.67 L1686.24 94.81 L1687.35 92.98 L1688.51 91.20 L1689.75 89.45 L1691.04 87.75 L1692.39 86.10 L1693.80 84.49 L1695.26 82.93 L1696.78 81.43 L1698.35 79.98 L1699.97 78.58 L1701.64 77.24 L1703.35 75.96 L1705.11 74.74 L1706.91 73.58 L1708.75 72.48 L1710.63 71.45 L1712.54 70.48 L1714.49 69.58 L1716.46 68.75 L1718.47 67.99 L1720.50 67.30 L1722.55 66.67 L1724.62 66.12 L1726.71 65.64 L1728.82 65.24 L1730.94 64.91 L1733.07 64.65 L1735.21 64.46 L1737.35 64.35 L1739.50 64.31 M1717.85 182.86 L1715.99 182.12 L1714.17 181.30 L1712.37 180.42 L1710.60 179.47 L1708.88 178.46 L1707.18 177.38 L1705.53 176.23 L1703.92 175.03 L1702.35 173.76 L1700.83 172.44 L1699.35 171.05 L1697.93 169.61 L1696.55 168.12 L1695.23 166.58 L1693.96 164.98 L1692.75 163.34 L1691.59 161.65 L1690.49 159.92 L1689.45 158.14 L1688.47 156.32 L1687.56 154.47 L1686.71 152.58 L1685.92 150.66 L1685.19 148.70 L1684.54 146.72 L1683.95 144.71 L1683.43 142.68 L1682.97 140.63 L1682.59 138.56 L1682.27 136.47 L1682.03 134.37 L1681.85 132.26 L1681.74 130.14 L1681.71 128.01 L1681.74 125.88 L1681.85 123.75 L1682.03 121.62 L1682.27 119.49 L1682.59 117.38 L1682.97 115.27 L1683.43 113.17 L1683.95 111.09 L1684.54 109.03 L1685.19 106.99 L1685.92 104.97 L1686.71 102.97 L1687.56 101.00 L1688.47 99.06 L1689.45 97.15 L1690.49 95.28 L1691.59 93.44 L1692.75 91.64 L1693.96 89.89 L1695.23 88.17 L1696.55 86.50 L1697.93 84.88 L1699.35 83.31 L1700.83 81.79 L1702.35 80.32 L1703.92 78.91 L1705.53 77.55 L1707.18 76.25 L1708.88 75.02 L1710.60 73.84 L1712.37 72.72 L1714.17 71.67 L1715.99 70.69 L1717.85 69.77 L1719.73 68.92 L1721.64 68.13 L1723.57 67.42 L1725.52 66.78 L1727.48 66.21 L1729.46 65.71 L1731.46 65.28 L1733.46 64.93 L1735.47 64.65 L1737.48 64.44 L1739.50 64.31 M1729.70 186.01 L1728.10 185.71 L1726.51 185.33 L1724.94 184.88 L1723.39 184.35 L1721.85 183.75 L1720.34 183.09 L1718.85 182.35 L1717.38 181.54 L1715.94 180.66 L1714.53 179.72 L1713.16 178.71 L1711.81 177.63 L1710.50 176.49 L1709.22 175.29 L1707.98 174.03 L1706.77 172.71 L1705.61 171.33 L1704.49 169.89 L1703.41 168.40 L1702.38 166.86 L1701.39 165.27 L1700.44 163.62 L1699.55 161.94 L1698.70 160.20 L1697.90 158.43 L1697.16 156.61 L1696.46 154.76 L1695.82 152.87 L1695.23 150.94 L1694.69 148.99 L1694.21 147.00 L1693.79 144.99 L1693.42 142.96 L1693.10 140.90 L1692.85 138.83 L1692.65 136.74 L1692.50 134.63 L1692.42 132.52 L1692.39 130.39 L1692.42 128.26 L1692.50 126.12 L1692.65 123.99 L1692.85 121.85 L1693.10 119.72 L1693.42 117.60 L1693.79 115.49 L1694.21 113.38 L1694.69 111.30 L1695.23 109.23 L1695.82 107.17 L1696.46 105.15 L1697.16 103.14 L1697.90 101.16 L1698.70 99.22 L1699.55 97.30 L1700.44 95.42 L1701.39 93.57 L1702.38 91.76 L1703.41 90.00 L1704.49 88.27 L1705.61 86.60 L1706.77 84.97 L1707.98 83.38 L1709.22 81.85 L1710.50 80.38 L1711.81 78.95 L1713.16 77.59 L1714.53 76.28 L1715.94 75.03 L1717.38 73.84 L1718.85 72.72 L1720.34 71.66 L1721.85 70.66 L1723.39 69.73 L1724.94 68.87 L1726.51 68.08 L1728.10 67.36 L1729.70 66.70 L1731.32 66.12 L1732.94 65.61 L1734.58 65.18 L1736.21 64.82 L1737.86 64.53 L1739.50 64.31 M1734.16 186.55 L1733.11 186.38 L1732.06 186.14 L1731.02 185.82 L1730.00 185.42 L1728.98 184.96 L1727.98 184.42 L1726.99 183.81 L1726.02 183.12 L1725.06 182.37 L1724.12 181.55 L1723.20 180.66 L1722.30 179.70 L1721.43 178.67 L1720.57 177.58 L1719.73 176.43 L1718.92 175.21 L1718.14 173.94 L1717.38 172.60 L1716.65 171.21 L1715.94 169.76 L1715.27 168.25 L1714.62 166.70 L1714.01 165.09 L1713.42 163.44 L1712.87 161.73 L1712.35 159.99 L1711.86 158.20 L1711.41 156.37 L1710.99 154.51 L1710.60 152.61 L1710.26 150.67 L1709.94 148.70 L1709.66 146.71 L1709.42 144.69 L1709.22 142.65 L1709.05 140.58 L1708.92 138.50 L1708.82 136.40 L1708.77 134.28 L1708.75 132.16 L1708.77 130.03 L1708.82 127.89 L1708.92 125.75 L1709.05 123.61 L1709.22 121.47 L1709.42 119.33 L1709.66 117.20 L1709.94 115.08 L1710.26 112.98 L1710.60 110.89 L1710.99 108.81 L1711.41 106.76 L1711.86 104.73 L1712.35 102.72 L1712.87 100.75 L1713.42 98.80 L1714.01 96.88 L1714.62 95.00 L1715.27 93.16 L1715.94 91.35 L1716.65 89.59 L1717.38 87.87 L1718.14 86.19 L1718.92 84.57 L1719.73 82.99 L1720.57 81.46 L1721.43 79.99 L1722.30 78.57 L1723.20 77.21 L1724.12 75.91 L1725.06 74.67 L1726.02 73.49 L1726.99 72.37 L1727.98 71.32 L1728.98 70.34 L1730.00 69.42 L1731.02 68.57 L1732.06 67.78 L1733.11 67.07 L1734.16 66.43 L1735.22 65.86 L1736.29 65.36 L1737.35 64.94 L1738.43 64.59 L1739.50 64.31 M1738.01 186.78 L1737.65 186.72 L1737.28 186.58 L1736.92 186.36 L1736.56 186.08 L1736.20 185.71 L1735.85 185.28 L1735.50 184.77 L1735.16 184.19 L1734.82 183.54 L1734.49 182.81 L1734.16 182.02 L1733.84 181.15 L1733.53 180.22 L1733.22 179.23 L1732.93 178.16 L1732.64 177.03 L1732.35 175.84 L1732.08 174.59 L1731.82 173.28 L1731.56 171.91 L1731.32 170.48 L1731.08 168.99 L1730.86 167.46 L1730.65 165.87 L1730.44 164.23 L1730.25 162.55 L1730.07 160.82 L1729.90 159.05 L1729.74 157.23 L1729.60 155.38 L1729.46 153.49 L1729.34 151.57 L1729.23 149.61 L1729.14 147.62 L1729.05 145.61 L1728.98 143.57 L1728.92 141.51 L1728.88 139.43 L1728.85 137.34 L1728.83 135.22 L1728.82 133.10 L1728.83 130.97 L1728.85 128.83 L1728.88 126.68 L1728.92 124.54 L1728.98 122.39 L1729.05 120.25 L1729.14 118.11 L1729.23 115.99 L1729.34 113.87 L1729.46 111.77 L1729.60 109.69 L1729.74 107.62 L1729.90 105.58 L1730.07 103.56 L1730.25 101.56 L1730.44 99.60 L1730.65 97.66 L1730.86 95.76 L1731.08 93.90 L1731.32 92.07 L1731.56 90.29 L1731.82 88.55 L1732.08 86.85 L1732.35 85.20 L1732.64 83.59 L1732.93 82.04 L1733.22 80.54 L1733.53 79.10 L1733.84 77.71 L1734.16 76.38 L1734.49 75.11 L1734.82 73.90 L1735.16 72.76 L1735.50 71.68 L1735.85 70.66 L1736.20 69.71 L1736.56 68.82 L1736.92 68.01 L1737.28 67.27 L1737.65 66.59 L1738.01 65.99 L1738.38 65.46 L1738.76 65.00 L1739.13 64.62 L1739.50 64.31 M1740.99 186.78 L1741.35 186.72 L1741.72 186.58 L1742.08 186.36 L1742.44 186.08 L1742.80 185.71 L1743.15 185.28 L1743.50 184.77 L1743.84 184.19 L1744.18 183.54 L1744.51 182.81 L1744.84 182.02 L1745.16 181.15 L1745.47 180.22 L1745.78 179.23 L1746.07 178.16 L1746.36 177.03 L1746.65 175.84 L1746.92 174.59 L1747.18 173.28 L1747.44 171.91 L1747.68 170.48 L1747.92 168.99 L1748.14 167.46 L1748.35 165.87 L1748.56 164.23 L1748.75 162.55 L1748.93 160.82 L1749.10 159.05 L1749.26 157.23 L1749.40 155.38 L1749.54 153.49 L1749.66 151.57 L1749.77 149.61 L1749.86 147.62 L1749.95 145.61 L1750.02 143.57 L1750.08 141.51 L1750.12 139.43 L1750.15 137.34 L1750.17 135.22 L1750.18 133.10 L1750.17 130.97 L1750.15 128.83 L1750.12 126.68 L1750.08 124.54 L1750.02 122.39 L1749.95 120.25 L1749.86 118.11 L1749.77 115.99 L1749.66 113.87 L1749.54 111.77 L1749.40 109.69 L1749.26 107.62 L1749.10 105.58 L1748.93 103.56 L1748.75 101.56 L1748.56 99.60 L1748.35 97.66 L1748.14 95.76 L1747.92 93.90 L1747.68 92.07 L1747.44 90.29 L1747.18 88.55 L1746.92 86.85 L1746.65 85.20 L1746.36 83.59 L1746.07 82.04 L1745.78 80.54 L1745.47 79.10 L1745.16 77.71 L1744.84 76.38 L1744.51 75.11 L1744.18 73.90 L1743.84 72.76 L1743.50 71.68 L1743.15 70.66 L1742.80 69.71 L1742.44 68.82 L1742.08 68.01 L1741.72 67.27 L1741.35 66.59 L1740.99 65.99 L1740.62 65.46 L1740.24 65.00 L1739.87 64.62 L1739.50 64.31 M1744.84 186.55 L1745.89 186.38 L1746.94 186.14 L1747.98 185.82 L1749.00 185.42 L1750.02 184.96 L1751.02 184.42 L1752.01 183.81 L1752.98 183.12 L1753.94 182.37 L1754.88 181.55 L1755.80 180.66 L1756.70 179.70 L1757.57 178.67 L1758.43 177.58 L1759.27 176.43 L1760.08 175.21 L1760.86 173.94 L1761.62 172.60 L1762.35 171.21 L1763.06 169.76 L1763.73 168.25 L1764.38 166.70 L1764.99 165.09 L1765.58 163.44 L1766.13 161.73 L1766.65 159.99 L1767.14 158.20 L1767.59 156.37 L1768.01 154.51 L1768.40 152.61 L1768.74 150.67 L1769.06 148.70 L1769.34 146.71 L1769.58 144.69 L1769.78 142.65 L1769.95 140.58 L1770.08 138.50 L1770.18 136.40 L1770.23 134.28 L1770.25 132.16 L1770.23 130.03 L1770.18 127.89 L1770.08 125.75 L1769.95 123.61 L1769.78 121.47 L1769.58 119.33 L1769.34 117.20 L1769.06 115.08 L1768.74 112.98 L1768.40 110.89 L1768.01 108.81 L1767.59 106.76 L1767.14 104.73 L1766.65 102.72 L1766.13 100.75 L1765.58 98.80 L1764.99 96.88 L1764.38 95.00 L1763.73 93.16 L1763.06 91.35 L1762.35 89.59 L1761.62 87.87 L1760.86 86.19 L1760.08 84.57 L1759.27 82.99 L1758.43 81.46 L1757.57 79.99 L1756.70 78.57 L1755.80 77.21 L1754.88 75.91 L1753.94 74.67 L1752.98 73.49 L1752.01 72.37 L1751.02 71.32 L1750.02 70.34 L1749.00 69.42 L1747.98 68.57 L1746.94 67.78 L1745.89 67.07 L1744.84 66.43 L1743.78 65.86 L1742.71 65.36 L1741.65 64.94 L1740.57 64.59 L1739.50 64.31 M1749.30 186.01 L1750.90 185.71 L1752.49 185.33 L1754.06 184.88 L1755.61 184.35 L1757.15 183.75 L1758.66 183.09 L1760.15 182.35 L1761.62 181.54 L1763.06 180.66 L1764.47 179.72 L1765.84 178.71 L1767.19 177.63 L1768.50 176.49 L1769.78 175.29 L1771.02 174.03 L1772.23 172.71 L1773.39 171.33 L1774.51 169.89 L1775.59 168.40 L1776.62 166.86 L1777.61 165.27 L1778.56 163.62 L1779.45 161.94 L1780.30 160.20 L1781.10 158.43 L1781.84 156.61 L1782.54 154.76 L1783.18 152.87 L1783.77 150.94 L1784.31 148.99 L1784.79 147.00 L1785.21 144.99 L1785.58 142.96 L1785.90 140.90 L1786.15 138.83 L1786.35 136.74 L1786.50 134.63 L1786.58 132.52 L1786.61 130.39 L1786.58 128.26 L1786.50 126.12 L1786.35 123.99 L1786.15 121.85 L1785.90 119.72 L1785.58 117.60 L1785.21 115.49 L1784.79 113.38 L1784.31 111.30 L1783.77 109.23 L1783.18 107.17 L1782.54 105.15 L1781.84 103.14 L1781.10 101.16 L1780.30 99.22 L1779.45 97.30 L1778.56 95.42 L1777.61 93.57 L1776.62 91.76 L1775.59 90.00 L1774.51 88.27 L1773.39 86.60 L1772.23 84.97 L1771.02 83.38 L1769.78 81.85 L1768.50 80.38 L1767.19 78.95 L1765.84 77.59 L1764.47 76.28 L1763.06 75.03 L1761.62 73.84 L1760.15 72.72 L1758.66 71.66 L1757.15 70.66 L1755.61 69.73 L1754.06 68.87 L1752.49 68.08 L1750.90 67.36 L1749.30 66.70 L1747.68 66.12 L1746.06 65.61 L1744.42 65.18 L1742.79 64.82 L1741.14 64.53 L1739.50 64.31 M1761.15 182.86 L1763.01 182.12 L1764.83 181.30 L1766.63 180.42 L1768.40 179.47 L1770.12 178.46 L1771.82 177.38 L1773.47 176.23 L1775.08 175.03 L1776.65 173.76 L1778.17 172.44 L1779.65 171.05 L1781.07 169.61 L1782.45 168.12 L1783.77 166.58 L1785.04 164.98 L1786.25 163.34 L1787.41 161.65 L1788.51 159.92 L1789.55 158.14 L1790.53 156.32 L1791.44 154.47 L1792.29 152.58 L1793.08 150.66 L1793.81 148.70 L1794.46 146.72 L1795.05 144.71 L1795.57 142.68 L1796.03 140.63 L1796.41 138.56 L1796.73 136.47 L1796.97 134.37 L1797.15 132.26 L1797.26 130.14 L1797.29 128.01 L1797.26 125.88 L1797.15 123.75 L1796.97 121.62 L1796.73 119.49 L1796.41 117.38 L1796.03 115.27 L1795.57 113.17 L1795.05 111.09 L1794.46 109.03 L1793.81 106.99 L1793.08 104.97 L1792.29 102.97 L1791.44 101.00 L1790.53 99.06 L1789.55 97.15 L1788.51 95.28 L1787.41 93.44 L1786.25 91.64 L1785.04 89.89 L1783.77 88.17 L1782.45 86.50 L1781.07 84.88 L1779.65 83.31 L1778.17 81.79 L1776.65 80.32 L1775.08 78.91 L1773.47 77.55 L1771.82 76.25 L1770.12 75.02 L1768.40 73.84 L1766.63 72.72 L1764.83 71.67 L1763.01 70.69 L1761.15 69.77 L1759.27 68.92 L1757.36 68.13 L1755.43 67.42 L1753.48 66.78 L1751.52 66.21 L1749.54 65.71 L1747.54 65.28 L1745.54 64.93 L1743.53 64.65 L1741.52 64.44 L1739.50 64.31 M1801.00 125.30 L1800.96 123.17 L1800.85 121.05 L1800.66 118.93 L1800.40 116.81 L1800.07 114.71 L1799.66 112.62 L1799.17 110.55 L1798.62 108.49 L1797.99 106.45 L1797.29 104.44 L1796.52 102.45 L1795.68 100.49 L1794.78 98.56 L1793.80 96.67 L1792.76 94.81 L1791.65 92.98 L1790.49 91.20 L1789.25 89.45 L1787.96 87.75 L1786.61 86.10 L1785.20 84.49 L1783.74 82.93 L1782.22 81.43 L1780.65 79.98 L1779.03 78.58 L1777.36 77.24 L1775.65 75.96 L1773.89 74.74 L1772.09 73.58 L1770.25 72.48 L1768.37 71.45 L1766.46 70.48 L1764.51 69.58 L1762.54 68.75 L1760.53 67.99 L1758.50 67.30 L1756.45 66.67 L1754.38 66.12 L1752.29 65.64 L1750.18 65.24 L1748.06 64.91 L1745.93 64.65 L1743.79 64.46 L1741.65 64.35 L1739.50 64.31 M1759.27 67.06 L1757.36 66.46 L1755.43 65.93 L1753.48 65.47 L1751.52 65.08 L1749.54 64.77 L1747.54 64.53 L1745.54 64.36 L1743.53 64.27 L1741.52 64.25 L1739.50 64.31 M1747.68 64.35 L1746.06 64.20 L1744.42 64.11 L1742.79 64.11 L1741.14 64.17 L1739.50 64.31 M1743.78 63.95 L1742.71 63.93 L1741.65 63.98 L1740.57 64.11 L1739.50 64.31 M1740.62 63.83 L1740.24 63.92 L1739.87 64.08 L1739.50 64.31" fill="none" stroke="#333" stroke-width="1" stroke-dasharray="2 4"/>
<circle cx="1739.6" cy="123.75" r="4.8" fill="#6f7074"/>
<circle cx="1895.6" cy="125.3" r="61.5" fill="none" stroke="#333" stroke-width="1" stroke-dasharray="1.8 3.4"/>
<path d="M1876.10 183.62 L1876.38 183.71 L1876.69 183.80 L1877.03 183.88 L1877.38 183.96 L1877.76 184.05 L1878.16 184.12 L1878.58 184.20 L1879.02 184.28 L1879.49 184.35 L1879.97 184.42 L1880.47 184.49 L1880.99 184.56 L1881.53 184.62 L1882.08 184.69 L1882.65 184.74 L1883.24 184.80 L1883.84 184.86 L1884.45 184.91 L1885.08 184.96 L1885.73 185.00 L1886.38 185.04 L1887.04 185.08 L1887.72 185.12 L1888.41 185.16 L1889.10 185.19 L1889.80 185.21 L1890.51 185.24 L1891.23 185.26 L1891.95 185.28 L1892.67 185.29 L1893.40 185.30 L1894.13 185.31 L1894.87 185.32 L1895.60 185.32 L1896.33 185.32 L1897.07 185.31 L1897.80 185.30 L1898.53 185.29 L1899.25 185.28 L1899.97 185.26 L1900.69 185.24 L1901.40 185.21 L1902.10 185.19 L1902.79 185.16 L1903.48 185.12 L1904.16 185.08 L1904.82 185.04 L1905.47 185.00 L1906.12 184.96 L1906.75 184.91 L1907.36 184.86 L1907.96 184.80 L1908.55 184.74 L1909.12 184.69 L1909.67 184.62 L1910.21 184.56 L1910.73 184.49 L1911.23 184.42 L1911.71 184.35 L1912.18 184.28 L1912.62 184.20 L1913.04 184.12 L1913.44 184.05 L1913.82 183.96 L1914.17 183.88 L1914.51 183.80 L1914.82 183.71 L1915.10 183.62 M1856.67 172.90 L1856.93 173.08 L1857.24 173.25 L1857.60 173.42 L1858.00 173.59 L1858.45 173.76 L1858.95 173.93 L1859.49 174.09 L1860.07 174.25 L1860.70 174.41 L1861.36 174.57 L1862.08 174.72 L1862.83 174.87 L1863.62 175.01 L1864.45 175.15 L1865.32 175.29 L1866.22 175.43 L1867.16 175.56 L1868.14 175.68 L1869.15 175.80 L1870.19 175.92 L1871.26 176.03 L1872.36 176.14 L1873.49 176.24 L1874.65 176.34 L1875.83 176.43 L1877.04 176.51 L1878.27 176.60 L1879.52 176.67 L1880.79 176.74 L1882.08 176.80 L1883.38 176.86 L1884.70 176.91 L1886.04 176.96 L1887.38 177.00 L1888.74 177.03 L1890.10 177.06 L1891.47 177.08 L1892.84 177.10 L1894.22 177.11 L1895.60 177.11 L1896.98 177.11 L1898.36 177.10 L1899.73 177.08 L1901.10 177.06 L1902.46 177.03 L1903.82 177.00 L1905.16 176.96 L1906.50 176.91 L1907.82 176.86 L1909.12 176.80 L1910.41 176.74 L1911.68 176.67 L1912.93 176.60 L1914.16 176.51 L1915.37 176.43 L1916.55 176.34 L1917.71 176.24 L1918.84 176.14 L1919.94 176.03 L1921.01 175.92 L1922.05 175.80 L1923.06 175.68 L1924.04 175.56 L1924.98 175.43 L1925.88 175.29 L1926.75 175.15 L1927.58 175.01 L1928.37 174.87 L1929.12 174.72 L1929.84 174.57 L1930.50 174.41 L1931.13 174.25 L1931.71 174.09 L1932.25 173.93 L1932.75 173.76 L1933.20 173.59 L1933.60 173.42 L1933.96 173.25 L1934.27 173.08 L1934.53 172.90 M1842.63 156.51 L1842.86 156.75 L1843.15 156.99 L1843.50 157.22 L1843.92 157.45 L1844.40 157.68 L1844.95 157.91 L1845.55 158.14 L1846.22 158.36 L1846.94 158.58 L1847.73 158.80 L1848.57 159.01 L1849.47 159.22 L1850.43 159.43 L1851.44 159.63 L1852.51 159.83 L1853.63 160.02 L1854.80 160.20 L1856.02 160.38 L1857.29 160.56 L1858.60 160.73 L1859.96 160.89 L1861.36 161.05 L1862.81 161.20 L1864.29 161.34 L1865.82 161.48 L1867.38 161.61 L1868.97 161.73 L1870.60 161.85 L1872.25 161.96 L1873.94 162.06 L1875.65 162.15 L1877.38 162.24 L1879.14 162.32 L1880.92 162.39 L1882.72 162.45 L1884.53 162.50 L1886.35 162.55 L1888.19 162.59 L1890.03 162.62 L1891.88 162.64 L1893.74 162.65 L1895.60 162.65 L1897.46 162.65 L1899.32 162.64 L1901.17 162.62 L1903.01 162.59 L1904.85 162.55 L1906.67 162.50 L1908.48 162.45 L1910.28 162.39 L1912.06 162.32 L1913.82 162.24 L1915.55 162.15 L1917.26 162.06 L1918.95 161.96 L1920.60 161.85 L1922.23 161.73 L1923.82 161.61 L1925.38 161.48 L1926.91 161.34 L1928.39 161.20 L1929.84 161.05 L1931.24 160.89 L1932.60 160.73 L1933.91 160.56 L1935.18 160.38 L1936.40 160.20 L1937.57 160.02 L1938.69 159.83 L1939.76 159.63 L1940.77 159.43 L1941.72 159.22 L1942.63 159.01 L1943.47 158.80 L1944.26 158.58 L1944.98 158.36 L1945.65 158.14 L1946.25 157.91 L1946.80 157.68 L1947.28 157.45 L1947.70 157.22 L1948.05 156.99 L1948.34 156.75 L1948.57 156.51 M1835.07 136.16 L1835.18 136.43 L1835.37 136.71 L1835.62 136.98 L1835.95 137.24 L1836.36 137.51 L1836.83 137.78 L1837.38 138.04 L1838.00 138.30 L1838.69 138.56 L1839.44 138.81 L1840.27 139.06 L1841.16 139.31 L1842.12 139.55 L1843.15 139.79 L1844.24 140.02 L1845.39 140.25 L1846.60 140.48 L1847.87 140.69 L1849.20 140.90 L1850.59 141.11 L1852.03 141.31 L1853.53 141.50 L1855.07 141.69 L1856.67 141.87 L1858.31 142.04 L1860.00 142.20 L1861.73 142.36 L1863.51 142.51 L1865.32 142.65 L1867.17 142.78 L1869.05 142.90 L1870.97 143.02 L1872.91 143.12 L1874.89 143.22 L1876.88 143.31 L1878.91 143.39 L1880.95 143.46 L1883.01 143.52 L1885.08 143.57 L1887.17 143.62 L1889.27 143.65 L1891.38 143.67 L1893.49 143.69 L1895.60 143.69 L1897.71 143.69 L1899.82 143.67 L1901.93 143.65 L1904.03 143.62 L1906.12 143.57 L1908.19 143.52 L1910.25 143.46 L1912.29 143.39 L1914.32 143.31 L1916.31 143.22 L1918.29 143.12 L1920.23 143.02 L1922.15 142.90 L1924.03 142.78 L1925.88 142.65 L1927.69 142.51 L1929.47 142.36 L1931.20 142.20 L1932.89 142.04 L1934.53 141.87 L1936.13 141.69 L1937.67 141.50 L1939.17 141.31 L1940.61 141.11 L1942.00 140.90 L1943.33 140.69 L1944.60 140.48 L1945.81 140.25 L1946.96 140.02 L1948.05 139.79 L1949.08 139.55 L1950.04 139.31 L1950.93 139.06 L1951.76 138.81 L1952.51 138.56 L1953.20 138.30 L1953.82 138.04 L1954.37 137.78 L1954.84 137.51 L1955.25 137.24 L1955.58 136.98 L1955.83 136.71 L1956.02 136.43 L1956.13 136.16 M1835.03 114.71 L1835.07 114.98 L1835.18 115.25 L1835.37 115.52 L1835.62 115.80 L1835.95 116.06 L1836.36 116.33 L1836.83 116.60 L1837.38 116.86 L1838.00 117.12 L1838.69 117.38 L1839.44 117.63 L1840.27 117.88 L1841.16 118.13 L1842.12 118.37 L1843.15 118.61 L1844.24 118.84 L1845.39 119.07 L1846.60 119.29 L1847.87 119.51 L1849.20 119.72 L1850.59 119.93 L1852.03 120.13 L1853.53 120.32 L1855.07 120.51 L1856.67 120.69 L1858.31 120.86 L1860.00 121.02 L1861.73 121.18 L1863.51 121.32 L1865.32 121.47 L1867.17 121.60 L1869.05 121.72 L1870.97 121.84 L1872.91 121.94 L1874.89 122.04 L1876.88 122.13 L1878.91 122.21 L1880.95 122.28 L1883.01 122.34 L1885.08 122.39 L1887.17 122.43 L1889.27 122.47 L1891.38 122.49 L1893.49 122.51 L1895.60 122.51 L1897.71 122.51 L1899.82 122.49 L1901.93 122.47 L1904.03 122.43 L1906.12 122.39 L1908.19 122.34 L1910.25 122.28 L1912.29 122.21 L1914.32 122.13 L1916.31 122.04 L1918.29 121.94 L1920.23 121.84 L1922.15 121.72 L1924.03 121.60 L1925.88 121.47 L1927.69 121.32 L1929.47 121.18 L1931.20 121.02 L1932.89 120.86 L1934.53 120.69 L1936.13 120.51 L1937.67 120.32 L1939.17 120.13 L1940.61 119.93 L1942.00 119.72 L1943.33 119.51 L1944.60 119.29 L1945.81 119.07 L1946.96 118.84 L1948.05 118.61 L1949.08 118.37 L1950.04 118.13 L1950.93 117.88 L1951.76 117.63 L1952.51 117.38 L1953.20 117.12 L1953.82 116.86 L1954.37 116.60 L1954.84 116.33 L1955.25 116.06 L1955.58 115.80 L1955.83 115.52 L1956.02 115.25 L1956.13 114.98 L1956.17 114.71 M1842.47 94.33 L1842.37 94.57 L1842.34 94.81 L1842.37 95.05 L1842.47 95.28 L1842.63 95.52 L1842.86 95.76 L1843.15 96.00 L1843.50 96.23 L1843.92 96.47 L1844.40 96.70 L1844.95 96.93 L1845.55 97.15 L1846.22 97.38 L1846.94 97.60 L1847.73 97.81 L1848.57 98.03 L1849.47 98.24 L1850.43 98.44 L1851.44 98.64 L1852.51 98.84 L1853.63 99.03 L1854.80 99.22 L1856.02 99.40 L1857.29 99.57 L1858.60 99.74 L1859.96 99.90 L1861.36 100.06 L1862.81 100.21 L1864.29 100.36 L1865.82 100.49 L1867.38 100.62 L1868.97 100.75 L1870.60 100.86 L1872.25 100.97 L1873.94 101.07 L1875.65 101.17 L1877.38 101.25 L1879.14 101.33 L1880.92 101.40 L1882.72 101.46 L1884.53 101.52 L1886.35 101.56 L1888.19 101.60 L1890.03 101.63 L1891.88 101.65 L1893.74 101.66 L1895.60 101.67 L1897.46 101.66 L1899.32 101.65 L1901.17 101.63 L1903.01 101.60 L1904.85 101.56 L1906.67 101.52 L1908.48 101.46 L1910.28 101.40 L1912.06 101.33 L1913.82 101.25 L1915.55 101.17 L1917.26 101.07 L1918.95 100.97 L1920.60 100.86 L1922.23 100.75 L1923.82 100.62 L1925.38 100.49 L1926.91 100.36 L1928.39 100.21 L1929.84 100.06 L1931.24 99.90 L1932.60 99.74 L1933.91 99.57 L1935.18 99.40 L1936.40 99.22 L1937.57 99.03 L1938.69 98.84 L1939.76 98.64 L1940.77 98.44 L1941.72 98.24 L1942.63 98.03 L1943.47 97.81 L1944.26 97.60 L1944.98 97.38 L1945.65 97.15 L1946.25 96.93 L1946.80 96.70 L1947.28 96.47 L1947.70 96.23 L1948.05 96.00 L1948.34 95.76 L1948.57 95.52 L1948.73 95.28 L1948.83 95.05 L1948.86 94.81 L1948.83 94.57 L1948.73 94.33 M1856.45 77.87 L1856.29 78.05 L1856.16 78.23 L1856.09 78.40 L1856.07 78.58 L1856.09 78.76 L1856.16 78.94 L1856.29 79.11 L1856.45 79.29 L1856.67 79.46 L1856.93 79.64 L1857.24 79.81 L1857.60 79.98 L1858.00 80.15 L1858.45 80.32 L1858.95 80.49 L1859.49 80.65 L1860.07 80.81 L1860.70 80.97 L1861.36 81.13 L1862.08 81.28 L1862.83 81.43 L1863.62 81.57 L1864.45 81.72 L1865.32 81.85 L1866.22 81.99 L1867.16 82.12 L1868.14 82.24 L1869.15 82.36 L1870.19 82.48 L1871.26 82.59 L1872.36 82.70 L1873.49 82.80 L1874.65 82.90 L1875.83 82.99 L1877.04 83.08 L1878.27 83.16 L1879.52 83.23 L1880.79 83.30 L1882.08 83.37 L1883.38 83.42 L1884.70 83.47 L1886.04 83.52 L1887.38 83.56 L1888.74 83.59 L1890.10 83.62 L1891.47 83.64 L1892.84 83.66 L1894.22 83.67 L1895.60 83.67 L1896.98 83.67 L1898.36 83.66 L1899.73 83.64 L1901.10 83.62 L1902.46 83.59 L1903.82 83.56 L1905.16 83.52 L1906.50 83.47 L1907.82 83.42 L1909.12 83.37 L1910.41 83.30 L1911.68 83.23 L1912.93 83.16 L1914.16 83.08 L1915.37 82.99 L1916.55 82.90 L1917.71 82.80 L1918.84 82.70 L1919.94 82.59 L1921.01 82.48 L1922.05 82.36 L1923.06 82.24 L1924.04 82.12 L1924.98 81.99 L1925.88 81.85 L1926.75 81.72 L1927.58 81.57 L1928.37 81.43 L1929.12 81.28 L1929.84 81.13 L1930.50 80.97 L1931.13 80.81 L1931.71 80.65 L1932.25 80.49 L1932.75 80.32 L1933.20 80.15 L1933.60 79.98 L1933.96 79.81 L1934.27 79.64 L1934.53 79.46 L1934.75 79.29 L1934.91 79.11 L1935.04 78.94 L1935.11 78.76 L1935.13 78.58 L1935.11 78.40 L1935.04 78.23 L1934.91 78.05 L1934.75 77.87 M1875.83 67.06 L1875.60 67.15 L1875.38 67.24 L1875.19 67.33 L1875.03 67.43 L1874.89 67.52 L1874.77 67.61 L1874.68 67.71 L1874.62 67.80 L1874.58 67.90 L1874.57 67.99 L1874.58 68.08 L1874.62 68.18 L1874.68 68.27 L1874.77 68.37 L1874.89 68.46 L1875.03 68.55 L1875.19 68.65 L1875.38 68.74 L1875.60 68.83 L1875.83 68.92 L1876.10 69.01 L1876.38 69.09 L1876.69 69.18 L1877.03 69.26 L1877.38 69.34 L1877.76 69.43 L1878.16 69.51 L1878.58 69.58 L1879.02 69.66 L1879.49 69.73 L1879.97 69.80 L1880.47 69.87 L1880.99 69.94 L1881.53 70.00 L1882.08 70.07 L1882.65 70.13 L1883.24 70.18 L1883.84 70.24 L1884.45 70.29 L1885.08 70.34 L1885.73 70.38 L1886.38 70.43 L1887.04 70.47 L1887.72 70.50 L1888.41 70.54 L1889.10 70.57 L1889.80 70.59 L1890.51 70.62 L1891.23 70.64 L1891.95 70.66 L1892.67 70.67 L1893.40 70.68 L1894.13 70.69 L1894.87 70.70 L1895.60 70.70 L1896.33 70.70 L1897.07 70.69 L1897.80 70.68 L1898.53 70.67 L1899.25 70.66 L1899.97 70.64 L1900.69 70.62 L1901.40 70.59 L1902.10 70.57 L1902.79 70.54 L1903.48 70.50 L1904.16 70.47 L1904.82 70.43 L1905.47 70.38 L1906.12 70.34 L1906.75 70.29 L1907.36 70.24 L1907.96 70.18 L1908.55 70.13 L1909.12 70.07 L1909.67 70.00 L1910.21 69.94 L1910.73 69.87 L1911.23 69.80 L1911.71 69.73 L1912.18 69.66 L1912.62 69.58 L1913.04 69.51 L1913.44 69.43 L1913.82 69.34 L1914.17 69.26 L1914.51 69.18 L1914.82 69.09 L1915.10 69.01 L1915.37 68.92 L1915.60 68.83 L1915.82 68.74 L1916.01 68.65 L1916.17 68.55 L1916.31 68.46 L1916.43 68.37 L1916.52 68.27 L1916.58 68.18 L1916.62 68.08 L1916.63 67.99 L1916.62 67.90 L1916.58 67.80 L1916.52 67.71 L1916.43 67.61 L1916.31 67.52 L1916.17 67.43 L1916.01 67.33 L1915.82 67.24 L1915.60 67.15 L1915.37 67.06 M1894.48 63.83 L1894.86 63.92 L1895.23 64.08 L1895.60 64.31 M1891.32 63.95 L1892.39 63.93 L1893.45 63.98 L1894.53 64.11 L1895.60 64.31 M1887.42 64.35 L1889.04 64.20 L1890.68 64.11 L1892.31 64.11 L1893.96 64.17 L1895.60 64.31 M1875.83 67.06 L1877.74 66.46 L1879.67 65.93 L1881.62 65.47 L1883.58 65.08 L1885.56 64.77 L1887.56 64.53 L1889.56 64.36 L1891.57 64.27 L1893.58 64.25 L1895.60 64.31 M1834.10 125.30 L1834.14 123.17 L1834.25 121.05 L1834.44 118.93 L1834.70 116.81 L1835.03 114.71 L1835.44 112.62 L1835.93 110.55 L1836.48 108.49 L1837.11 106.45 L1837.81 104.44 L1838.58 102.45 L1839.42 100.49 L1840.32 98.56 L1841.30 96.67 L1842.34 94.81 L1843.45 92.98 L1844.61 91.20 L1845.85 89.45 L1847.14 87.75 L1848.49 86.10 L1849.90 84.49 L1851.36 82.93 L1852.88 81.43 L1854.45 79.98 L1856.07 78.58 L1857.74 77.24 L1859.45 75.96 L1861.21 74.74 L1863.01 73.58 L1864.85 72.48 L1866.73 71.45 L1868.64 70.48 L1870.59 69.58 L1872.56 68.75 L1874.57 67.99 L1876.60 67.30 L1878.65 66.67 L1880.72 66.12 L1882.81 65.64 L1884.92 65.24 L1887.04 64.91 L1889.17 64.65 L1891.31 64.46 L1893.45 64.35 L1895.60 64.31 M1873.95 182.86 L1872.09 182.12 L1870.27 181.30 L1868.47 180.42 L1866.70 179.47 L1864.98 178.46 L1863.28 177.38 L1861.63 176.23 L1860.02 175.03 L1858.45 173.76 L1856.93 172.44 L1855.45 171.05 L1854.03 169.61 L1852.65 168.12 L1851.33 166.58 L1850.06 164.98 L1848.85 163.34 L1847.69 161.65 L1846.59 159.92 L1845.55 158.14 L1844.57 156.32 L1843.66 154.47 L1842.81 152.58 L1842.02 150.66 L1841.29 148.70 L1840.64 146.72 L1840.05 144.71 L1839.53 142.68 L1839.07 140.63 L1838.69 138.56 L1838.37 136.47 L1838.13 134.37 L1837.95 132.26 L1837.84 130.14 L1837.81 128.01 L1837.84 125.88 L1837.95 123.75 L1838.13 121.62 L1838.37 119.49 L1838.69 117.38 L1839.07 115.27 L1839.53 113.17 L1840.05 111.09 L1840.64 109.03 L1841.29 106.99 L1842.02 104.97 L1842.81 102.97 L1843.66 101.00 L1844.57 99.06 L1845.55 97.15 L1846.59 95.28 L1847.69 93.44 L1848.85 91.64 L1850.06 89.89 L1851.33 88.17 L1852.65 86.50 L1854.03 84.88 L1855.45 83.31 L1856.93 81.79 L1858.45 80.32 L1860.02 78.91 L1861.63 77.55 L1863.28 76.25 L1864.98 75.02 L1866.70 73.84 L1868.47 72.72 L1870.27 71.67 L1872.09 70.69 L1873.95 69.77 L1875.83 68.92 L1877.74 68.13 L1879.67 67.42 L1881.62 66.78 L1883.58 66.21 L1885.56 65.71 L1887.56 65.28 L1889.56 64.93 L1891.57 64.65 L1893.58 64.44 L1895.60 64.31 M1885.80 186.01 L1884.20 185.71 L1882.61 185.33 L1881.04 184.88 L1879.49 184.35 L1877.95 183.75 L1876.44 183.09 L1874.95 182.35 L1873.48 181.54 L1872.04 180.66 L1870.63 179.72 L1869.26 178.71 L1867.91 177.63 L1866.60 176.49 L1865.32 175.29 L1864.08 174.03 L1862.87 172.71 L1861.71 171.33 L1860.59 169.89 L1859.51 168.40 L1858.48 166.86 L1857.49 165.27 L1856.54 163.62 L1855.65 161.94 L1854.80 160.20 L1854.00 158.43 L1853.26 156.61 L1852.56 154.76 L1851.92 152.87 L1851.33 150.94 L1850.79 148.99 L1850.31 147.00 L1849.89 144.99 L1849.52 142.96 L1849.20 140.90 L1848.95 138.83 L1848.75 136.74 L1848.60 134.63 L1848.52 132.52 L1848.49 130.39 L1848.52 128.26 L1848.60 126.12 L1848.75 123.99 L1848.95 121.85 L1849.20 119.72 L1849.52 117.60 L1849.89 115.49 L1850.31 113.38 L1850.79 111.30 L1851.33 109.23 L1851.92 107.17 L1852.56 105.15 L1853.26 103.14 L1854.00 101.16 L1854.80 99.22 L1855.65 97.30 L1856.54 95.42 L1857.49 93.57 L1858.48 91.76 L1859.51 90.00 L1860.59 88.27 L1861.71 86.60 L1862.87 84.97 L1864.08 83.38 L1865.32 81.85 L1866.60 80.38 L1867.91 78.95 L1869.26 77.59 L1870.63 76.28 L1872.04 75.03 L1873.48 73.84 L1874.95 72.72 L1876.44 71.66 L1877.95 70.66 L1879.49 69.73 L1881.04 68.87 L1882.61 68.08 L1884.20 67.36 L1885.80 66.70 L1887.42 66.12 L1889.04 65.61 L1890.68 65.18 L1892.31 64.82 L1893.96 64.53 L1895.60 64.31 M1890.26 186.55 L1889.21 186.38 L1888.16 186.14 L1887.12 185.82 L1886.10 185.42 L1885.08 184.96 L1884.08 184.42 L1883.09 183.81 L1882.12 183.12 L1881.16 182.37 L1880.22 181.55 L1879.30 180.66 L1878.40 179.70 L1877.53 178.67 L1876.67 177.58 L1875.83 176.43 L1875.02 175.21 L1874.24 173.94 L1873.48 172.60 L1872.75 171.21 L1872.04 169.76 L1871.37 168.25 L1870.72 166.70 L1870.11 165.09 L1869.52 163.44 L1868.97 161.73 L1868.45 159.99 L1867.96 158.20 L1867.51 156.37 L1867.09 154.51 L1866.70 152.61 L1866.36 150.67 L1866.04 148.70 L1865.76 146.71 L1865.52 144.69 L1865.32 142.65 L1865.15 140.58 L1865.02 138.50 L1864.92 136.40 L1864.87 134.28 L1864.85 132.16 L1864.87 130.03 L1864.92 127.89 L1865.02 125.75 L1865.15 123.61 L1865.32 121.47 L1865.52 119.33 L1865.76 117.20 L1866.04 115.08 L1866.36 112.98 L1866.70 110.89 L1867.09 108.81 L1867.51 106.76 L1867.96 104.73 L1868.45 102.72 L1868.97 100.75 L1869.52 98.80 L1870.11 96.88 L1870.72 95.00 L1871.37 93.16 L1872.04 91.35 L1872.75 89.59 L1873.48 87.87 L1874.24 86.19 L1875.02 84.57 L1875.83 82.99 L1876.67 81.46 L1877.53 79.99 L1878.40 78.57 L1879.30 77.21 L1880.22 75.91 L1881.16 74.67 L1882.12 73.49 L1883.09 72.37 L1884.08 71.32 L1885.08 70.34 L1886.10 69.42 L1887.12 68.57 L1888.16 67.78 L1889.21 67.07 L1890.26 66.43 L1891.32 65.86 L1892.39 65.36 L1893.45 64.94 L1894.53 64.59 L1895.60 64.31 M1894.11 186.78 L1893.75 186.72 L1893.38 186.58 L1893.02 186.36 L1892.66 186.08 L1892.30 185.71 L1891.95 185.28 L1891.60 184.77 L1891.26 184.19 L1890.92 183.54 L1890.59 182.81 L1890.26 182.02 L1889.94 181.15 L1889.63 180.22 L1889.32 179.23 L1889.03 178.16 L1888.74 177.03 L1888.45 175.84 L1888.18 174.59 L1887.92 173.28 L1887.66 171.91 L1887.42 170.48 L1887.18 168.99 L1886.96 167.46 L1886.75 165.87 L1886.54 164.23 L1886.35 162.55 L1886.17 160.82 L1886.00 159.05 L1885.84 157.23 L1885.70 155.38 L1885.56 153.49 L1885.44 151.57 L1885.33 149.61 L1885.24 147.62 L1885.15 145.61 L1885.08 143.57 L1885.02 141.51 L1884.98 139.43 L1884.95 137.34 L1884.93 135.22 L1884.92 133.10 L1884.93 130.97 L1884.95 128.83 L1884.98 126.68 L1885.02 124.54 L1885.08 122.39 L1885.15 120.25 L1885.24 118.11 L1885.33 115.99 L1885.44 113.87 L1885.56 111.77 L1885.70 109.69 L1885.84 107.62 L1886.00 105.58 L1886.17 103.56 L1886.35 101.56 L1886.54 99.60 L1886.75 97.66 L1886.96 95.76 L1887.18 93.90 L1887.42 92.07 L1887.66 90.29 L1887.92 88.55 L1888.18 86.85 L1888.45 85.20 L1888.74 83.59 L1889.03 82.04 L1889.32 80.54 L1889.63 79.10 L1889.94 77.71 L1890.26 76.38 L1890.59 75.11 L1890.92 73.90 L1891.26 72.76 L1891.60 71.68 L1891.95 70.66 L1892.30 69.71 L1892.66 68.82 L1893.02 68.01 L1893.38 67.27 L1893.75 66.59 L1894.11 65.99 L1894.48 65.46 L1894.86 65.00 L1895.23 64.62 L1895.60 64.31 M1897.09 186.78 L1897.45 186.72 L1897.82 186.58 L1898.18 186.36 L1898.54 186.08 L1898.90 185.71 L1899.25 185.28 L1899.60 184.77 L1899.94 184.19 L1900.28 183.54 L1900.61 182.81 L1900.94 182.02 L1901.26 181.15 L1901.57 180.22 L1901.88 179.23 L1902.17 178.16 L1902.46 177.03 L1902.75 175.84 L1903.02 174.59 L1903.28 173.28 L1903.54 171.91 L1903.78 170.48 L1904.02 168.99 L1904.24 167.46 L1904.45 165.87 L1904.66 164.23 L1904.85 162.55 L1905.03 160.82 L1905.20 159.05 L1905.36 157.23 L1905.50 155.38 L1905.64 153.49 L1905.76 151.57 L1905.87 149.61 L1905.96 147.62 L1906.05 145.61 L1906.12 143.57 L1906.18 141.51 L1906.22 139.43 L1906.25 137.34 L1906.27 135.22 L1906.28 133.10 L1906.27 130.97 L1906.25 128.83 L1906.22 126.68 L1906.18 124.54 L1906.12 122.39 L1906.05 120.25 L1905.96 118.11 L1905.87 115.99 L1905.76 113.87 L1905.64 111.77 L1905.50 109.69 L1905.36 107.62 L1905.20 105.58 L1905.03 103.56 L1904.85 101.56 L1904.66 99.60 L1904.45 97.66 L1904.24 95.76 L1904.02 93.90 L1903.78 92.07 L1903.54 90.29 L1903.28 88.55 L1903.02 86.85 L1902.75 85.20 L1902.46 83.59 L1902.17 82.04 L1901.88 80.54 L1901.57 79.10 L1901.26 77.71 L1900.94 76.38 L1900.61 75.11 L1900.28 73.90 L1899.94 72.76 L1899.60 71.68 L1899.25 70.66 L1898.90 69.71 L1898.54 68.82 L1898.18 68.01 L1897.82 67.27 L1897.45 66.59 L1897.09 65.99 L1896.72 65.46 L1896.34 65.00 L1895.97 64.62 L1895.60 64.31 M1900.94 186.55 L1901.99 186.38 L1903.04 186.14 L1904.08 185.82 L1905.10 185.42 L1906.12 184.96 L1907.12 184.42 L1908.11 183.81 L1909.08 183.12 L1910.04 182.37 L1910.97 181.55 L1911.90 180.66 L1912.80 179.70 L1913.67 178.67 L1914.53 177.58 L1915.37 176.43 L1916.18 175.21 L1916.96 173.94 L1917.72 172.60 L1918.45 171.21 L1919.16 169.76 L1919.83 168.25 L1920.48 166.70 L1921.09 165.09 L1921.68 163.44 L1922.23 161.73 L1922.75 159.99 L1923.24 158.20 L1923.69 156.37 L1924.11 154.51 L1924.50 152.61 L1924.84 150.67 L1925.16 148.70 L1925.44 146.71 L1925.68 144.69 L1925.88 142.65 L1926.05 140.58 L1926.18 138.50 L1926.28 136.40 L1926.33 134.28 L1926.35 132.16 L1926.33 130.03 L1926.28 127.89 L1926.18 125.75 L1926.05 123.61 L1925.88 121.47 L1925.68 119.33 L1925.44 117.20 L1925.16 115.08 L1924.84 112.98 L1924.50 110.89 L1924.11 108.81 L1923.69 106.76 L1923.24 104.73 L1922.75 102.72 L1922.23 100.75 L1921.68 98.80 L1921.09 96.88 L1920.48 95.00 L1919.83 93.16 L1919.16 91.35 L1918.45 89.59 L1917.72 87.87 L1916.96 86.19 L1916.18 84.57 L1915.37 82.99 L1914.53 81.46 L1913.67 79.99 L1912.80 78.57 L1911.90 77.21 L1910.97 75.91 L1910.04 74.67 L1909.08 73.49 L1908.11 72.37 L1907.12 71.32 L1906.12 70.34 L1905.10 69.42 L1904.08 68.57 L1903.04 67.78 L1901.99 67.07 L1900.94 66.43 L1899.88 65.86 L1898.81 65.36 L1897.75 64.94 L1896.67 64.59 L1895.60 64.31 M1905.40 186.01 L1907.00 185.71 L1908.59 185.33 L1910.16 184.88 L1911.71 184.35 L1913.25 183.75 L1914.76 183.09 L1916.25 182.35 L1917.72 181.54 L1919.16 180.66 L1920.57 179.72 L1921.94 178.71 L1923.29 177.63 L1924.60 176.49 L1925.88 175.29 L1927.12 174.03 L1928.33 172.71 L1929.49 171.33 L1930.61 169.89 L1931.69 168.40 L1932.72 166.86 L1933.71 165.27 L1934.66 163.62 L1935.55 161.94 L1936.40 160.20 L1937.20 158.43 L1937.94 156.61 L1938.64 154.76 L1939.28 152.87 L1939.87 150.94 L1940.41 148.99 L1940.89 147.00 L1941.31 144.99 L1941.68 142.96 L1942.00 140.90 L1942.25 138.83 L1942.45 136.74 L1942.60 134.63 L1942.68 132.52 L1942.71 130.39 L1942.68 128.26 L1942.60 126.12 L1942.45 123.99 L1942.25 121.85 L1942.00 119.72 L1941.68 117.60 L1941.31 115.49 L1940.89 113.38 L1940.41 111.30 L1939.87 109.23 L1939.28 107.17 L1938.64 105.15 L1937.94 103.14 L1937.20 101.16 L1936.40 99.22 L1935.55 97.30 L1934.66 95.42 L1933.71 93.57 L1932.72 91.76 L1931.69 90.00 L1930.61 88.27 L1929.49 86.60 L1928.33 84.97 L1927.12 83.38 L1925.88 81.85 L1924.60 80.38 L1923.29 78.95 L1921.94 77.59 L1920.57 76.28 L1919.16 75.03 L1917.72 73.84 L1916.25 72.72 L1914.76 71.66 L1913.25 70.66 L1911.71 69.73 L1910.16 68.87 L1908.59 68.08 L1907.00 67.36 L1905.40 66.70 L1903.78 66.12 L1902.16 65.61 L1900.52 65.18 L1898.89 64.82 L1897.24 64.53 L1895.60 64.31 M1917.25 182.86 L1919.11 182.12 L1920.93 181.30 L1922.73 180.42 L1924.50 179.47 L1926.22 178.46 L1927.92 177.38 L1929.57 176.23 L1931.18 175.03 L1932.75 173.76 L1934.27 172.44 L1935.75 171.05 L1937.17 169.61 L1938.55 168.12 L1939.87 166.58 L1941.14 164.98 L1942.35 163.34 L1943.51 161.65 L1944.61 159.92 L1945.65 158.14 L1946.63 156.32 L1947.54 154.47 L1948.39 152.58 L1949.18 150.66 L1949.91 148.70 L1950.56 146.72 L1951.15 144.71 L1951.67 142.68 L1952.13 140.63 L1952.51 138.56 L1952.83 136.47 L1953.07 134.37 L1953.25 132.26 L1953.36 130.14 L1953.39 128.01 L1953.36 125.88 L1953.25 123.75 L1953.07 121.62 L1952.83 119.49 L1952.51 117.38 L1952.13 115.27 L1951.67 113.17 L1951.15 111.09 L1950.56 109.03 L1949.91 106.99 L1949.18 104.97 L1948.39 102.97 L1947.54 101.00 L1946.63 99.06 L1945.65 97.15 L1944.61 95.28 L1943.51 93.44 L1942.35 91.64 L1941.14 89.89 L1939.87 88.17 L1938.55 86.50 L1937.17 84.88 L1935.75 83.31 L1934.27 81.79 L1932.75 80.32 L1931.18 78.91 L1929.57 77.55 L1927.92 76.25 L1926.22 75.02 L1924.50 73.84 L1922.73 72.72 L1920.93 71.67 L1919.11 70.69 L1917.25 69.77 L1915.37 68.92 L1913.46 68.13 L1911.53 67.42 L1909.58 66.78 L1907.62 66.21 L1905.64 65.71 L1903.64 65.28 L1901.64 64.93 L1899.63 64.65 L1897.62 64.44 L1895.60 64.31 M1957.10 125.30 L1957.06 123.17 L1956.95 121.05 L1956.76 118.93 L1956.50 116.81 L1956.17 114.71 L1955.76 112.62 L1955.27 110.55 L1954.72 108.49 L1954.09 106.45 L1953.39 104.44 L1952.62 102.45 L1951.78 100.49 L1950.88 98.56 L1949.90 96.67 L1948.86 94.81 L1947.75 92.98 L1946.59 91.20 L1945.35 89.45 L1944.06 87.75 L1942.71 86.10 L1941.30 84.49 L1939.84 82.93 L1938.32 81.43 L1936.75 79.98 L1935.13 78.58 L1933.46 77.24 L1931.75 75.96 L1929.99 74.74 L1928.19 73.58 L1926.35 72.48 L1924.47 71.45 L1922.56 70.48 L1920.61 69.58 L1918.64 68.75 L1916.63 67.99 L1914.60 67.30 L1912.55 66.67 L1910.48 66.12 L1908.39 65.64 L1906.28 65.24 L1904.16 64.91 L1902.03 64.65 L1899.89 64.46 L1897.75 64.35 L1895.60 64.31 M1915.37 67.06 L1913.46 66.46 L1911.53 65.93 L1909.58 65.47 L1907.62 65.08 L1905.64 64.77 L1903.64 64.53 L1901.64 64.36 L1899.63 64.27 L1897.62 64.25 L1895.60 64.31 M1903.78 64.35 L1902.16 64.20 L1900.52 64.11 L1898.89 64.11 L1897.24 64.17 L1895.60 64.31 M1899.88 63.95 L1898.81 63.93 L1897.75 63.98 L1896.67 64.11 L1895.60 64.31 M1896.72 63.83 L1896.34 63.92 L1895.97 64.08 L1895.60 64.31" fill="none" stroke="#333" stroke-width="1" stroke-dasharray="2 4"/>
<circle cx="1835.2" cy="123.75" r="4.8" fill="#6f7074"/>
<text x="684.4" y="30.1" text-anchor="middle" font-size="22">SC1</text>
<text x="841" y="30.1" text-anchor="middle" font-size="22">SC2</text>
<text x="1739.4" y="30.1" text-anchor="middle" font-size="22">SC1</text>
<text x="1896" y="30.1" text-anchor="middle" font-size="22">SC2</text>
</svg></body></html>
